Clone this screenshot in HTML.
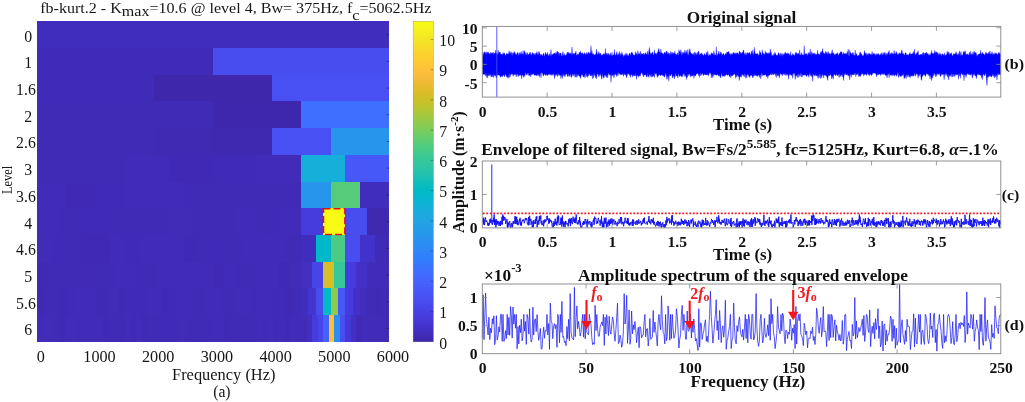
<!DOCTYPE html>
<html><head><meta charset="utf-8"><title>Fast kurtogram</title>
<style>
html,body{margin:0;padding:0;background:#fff;}
svg{display:block;}
text{font-family:"Liberation Serif","DejaVu Serif",serif;fill:#161616;}
.r{font-size:15.8px;}
.b{font-size:15.6px;font-weight:bold;fill:#101010;}
.t{font-size:17.3px;font-weight:bold;fill:#101010;}
.red{fill:#ee1c23;font-weight:bold;}
</style></head>
<body>
<svg width="1025" height="402" viewBox="0 0 1025 402">
<rect x="0" y="0" width="1025" height="402" fill="#ffffff"/>
<defs><linearGradient id="cb" x1="0" y1="1" x2="0" y2="0">
<stop offset="0.0000" stop-color="#3e26a8"/><stop offset="0.0159" stop-color="#402ab4"/><stop offset="0.0317" stop-color="#422ec0"/><stop offset="0.0476" stop-color="#4332cb"/><stop offset="0.0635" stop-color="#4537d5"/><stop offset="0.0794" stop-color="#463cde"/><stop offset="0.0952" stop-color="#4741e5"/><stop offset="0.1111" stop-color="#4747eb"/><stop offset="0.1270" stop-color="#484df0"/><stop offset="0.1429" stop-color="#4852f4"/><stop offset="0.1587" stop-color="#4758f8"/><stop offset="0.1746" stop-color="#465efb"/><stop offset="0.1905" stop-color="#4563fd"/><stop offset="0.2063" stop-color="#4269fe"/><stop offset="0.2222" stop-color="#3e6fff"/><stop offset="0.2381" stop-color="#3875fe"/><stop offset="0.2540" stop-color="#327cfc"/><stop offset="0.2698" stop-color="#2f81fa"/><stop offset="0.2857" stop-color="#2e87f7"/><stop offset="0.3016" stop-color="#2d8cf3"/><stop offset="0.3175" stop-color="#2b91ef"/><stop offset="0.3333" stop-color="#2797eb"/><stop offset="0.3492" stop-color="#259be8"/><stop offset="0.3651" stop-color="#23a0e5"/><stop offset="0.3810" stop-color="#20a5e3"/><stop offset="0.3968" stop-color="#1ca9df"/><stop offset="0.4127" stop-color="#18addb"/><stop offset="0.4286" stop-color="#12b1d6"/><stop offset="0.4444" stop-color="#08b5d0"/><stop offset="0.4603" stop-color="#01b8ca"/><stop offset="0.4762" stop-color="#02bac3"/><stop offset="0.4921" stop-color="#0bbdbd"/><stop offset="0.5079" stop-color="#19bfb6"/><stop offset="0.5238" stop-color="#24c1ae"/><stop offset="0.5397" stop-color="#2cc4a7"/><stop offset="0.5556" stop-color="#31c69f"/><stop offset="0.5714" stop-color="#37c897"/><stop offset="0.5873" stop-color="#3fca8e"/><stop offset="0.6032" stop-color="#4acb84"/><stop offset="0.6190" stop-color="#57cc7a"/><stop offset="0.6349" stop-color="#64cd6f"/><stop offset="0.6508" stop-color="#72cd64"/><stop offset="0.6667" stop-color="#81cc59"/><stop offset="0.6825" stop-color="#8fcb4e"/><stop offset="0.6984" stop-color="#9dc943"/><stop offset="0.7143" stop-color="#abc739"/><stop offset="0.7302" stop-color="#b9c431"/><stop offset="0.7460" stop-color="#c5c22a"/><stop offset="0.7619" stop-color="#d1bf27"/><stop offset="0.7778" stop-color="#dcbd29"/><stop offset="0.7937" stop-color="#e6bb2d"/><stop offset="0.8095" stop-color="#f0ba36"/><stop offset="0.8254" stop-color="#f8ba3d"/><stop offset="0.8413" stop-color="#febe3c"/><stop offset="0.8571" stop-color="#fec338"/><stop offset="0.8730" stop-color="#fec934"/><stop offset="0.8889" stop-color="#fccf30"/><stop offset="0.9048" stop-color="#fad62d"/><stop offset="0.9206" stop-color="#f7dc2a"/><stop offset="0.9365" stop-color="#f5e327"/><stop offset="0.9524" stop-color="#f5e924"/><stop offset="0.9683" stop-color="#f6ef20"/><stop offset="0.9841" stop-color="#f7f51b"/><stop offset="1.0000" stop-color="#f9fb15"/>
</linearGradient></defs>
<g shape-rendering="crispEdges">
<rect x="37.00" y="21.30" width="352.20" height="320.50" fill="#402bb7"/>
<rect x="37.00" y="21.30" width="352.20" height="27.01" fill="#412dbd"/>
<rect x="37.00" y="48.01" width="176.40" height="27.01" fill="#402bb8"/><rect x="213.10" y="48.01" width="176.10" height="27.01" fill="#484df0"/>
<rect x="37.00" y="74.72" width="117.70" height="27.01" fill="#402bb8"/><rect x="154.40" y="74.72" width="117.70" height="27.01" fill="#3e27aa"/><rect x="271.80" y="74.72" width="117.40" height="27.01" fill="#4850f3"/>
<rect x="37.00" y="101.42" width="88.35" height="27.01" fill="#402bb7"/><rect x="125.05" y="101.42" width="88.35" height="27.01" fill="#402bb7"/><rect x="213.10" y="101.42" width="88.35" height="27.01" fill="#3e27ac"/><rect x="301.15" y="101.42" width="88.05" height="27.01" fill="#3e6fff"/>
<rect x="37.00" y="128.13" width="59.00" height="27.01" fill="#402bb7"/><rect x="95.70" y="128.13" width="59.00" height="27.01" fill="#402bb7"/><rect x="154.40" y="128.13" width="59.00" height="27.01" fill="#402ab3"/><rect x="213.10" y="128.13" width="59.00" height="27.01" fill="#3f29b0"/><rect x="271.80" y="128.13" width="59.00" height="27.01" fill="#4850f3"/><rect x="330.50" y="128.13" width="58.70" height="27.01" fill="#2895ec"/>
<rect x="37.00" y="154.84" width="44.33" height="27.01" fill="#402bb6"/><rect x="81.03" y="154.84" width="44.32" height="27.01" fill="#402bb7"/><rect x="125.05" y="154.84" width="44.32" height="27.01" fill="#412cba"/><rect x="169.07" y="154.84" width="44.33" height="27.01" fill="#402ab5"/><rect x="213.10" y="154.84" width="44.33" height="27.01" fill="#402bb8"/><rect x="257.12" y="154.84" width="44.32" height="27.01" fill="#412cba"/><rect x="301.15" y="154.84" width="44.33" height="27.01" fill="#15afd9"/><rect x="345.18" y="154.84" width="44.02" height="27.01" fill="#4758f8"/>
<rect x="37.00" y="181.55" width="29.65" height="27.01" fill="#412cba"/><rect x="66.35" y="181.55" width="29.65" height="27.01" fill="#402ab5"/><rect x="95.70" y="181.55" width="29.65" height="27.01" fill="#402bb8"/><rect x="125.05" y="181.55" width="29.65" height="27.01" fill="#412cb9"/><rect x="154.40" y="181.55" width="29.65" height="27.01" fill="#412cb9"/><rect x="183.75" y="181.55" width="29.65" height="27.01" fill="#402bb7"/><rect x="213.10" y="181.55" width="29.65" height="27.01" fill="#402bb6"/><rect x="242.45" y="181.55" width="29.65" height="27.01" fill="#402bb7"/><rect x="271.80" y="181.55" width="29.65" height="27.01" fill="#402bb7"/><rect x="301.15" y="181.55" width="29.65" height="27.01" fill="#2895ec"/><rect x="330.50" y="181.55" width="29.65" height="27.01" fill="#56cc7b"/><rect x="359.85" y="181.55" width="29.35" height="27.01" fill="#412dbd"/>
<rect x="37.00" y="208.26" width="22.31" height="27.01" fill="#412cb9"/><rect x="59.01" y="208.26" width="22.31" height="27.01" fill="#402bb6"/><rect x="81.03" y="208.26" width="22.31" height="27.01" fill="#402bb8"/><rect x="103.04" y="208.26" width="22.31" height="27.01" fill="#402bb6"/><rect x="125.05" y="208.26" width="22.31" height="27.01" fill="#402bb7"/><rect x="147.06" y="208.26" width="22.31" height="27.01" fill="#402bb7"/><rect x="169.07" y="208.26" width="22.31" height="27.01" fill="#412cb8"/><rect x="191.09" y="208.26" width="22.31" height="27.01" fill="#402bb7"/><rect x="213.10" y="208.26" width="22.31" height="27.01" fill="#402bb7"/><rect x="235.11" y="208.26" width="22.31" height="27.01" fill="#412cb9"/><rect x="257.12" y="208.26" width="22.31" height="27.01" fill="#402bb7"/><rect x="279.14" y="208.26" width="22.31" height="27.01" fill="#412cba"/><rect x="301.15" y="208.26" width="22.31" height="27.01" fill="#463bdc"/><rect x="323.16" y="208.26" width="22.31" height="27.01" fill="#f9fb15"/><rect x="345.18" y="208.26" width="22.31" height="27.01" fill="#484df0"/><rect x="367.19" y="208.26" width="22.01" height="27.01" fill="#3f29b1"/>
<rect x="37.00" y="234.97" width="14.97" height="27.01" fill="#412cb8"/><rect x="51.67" y="234.97" width="14.97" height="27.01" fill="#402bb8"/><rect x="66.35" y="234.97" width="14.98" height="27.01" fill="#402bb7"/><rect x="81.03" y="234.97" width="14.97" height="27.01" fill="#402ab5"/><rect x="95.70" y="234.97" width="14.98" height="27.01" fill="#402ab5"/><rect x="110.38" y="234.97" width="14.97" height="27.01" fill="#412cb9"/><rect x="125.05" y="234.97" width="14.98" height="27.01" fill="#402bb8"/><rect x="139.73" y="234.97" width="14.97" height="27.01" fill="#412cb9"/><rect x="154.40" y="234.97" width="14.98" height="27.01" fill="#412cba"/><rect x="169.07" y="234.97" width="14.98" height="27.01" fill="#412cb9"/><rect x="183.75" y="234.97" width="14.97" height="27.01" fill="#402ab5"/><rect x="198.42" y="234.97" width="14.98" height="27.01" fill="#402bb6"/><rect x="213.10" y="234.97" width="14.97" height="27.01" fill="#402bb8"/><rect x="227.77" y="234.97" width="14.98" height="27.01" fill="#402bb6"/><rect x="242.45" y="234.97" width="14.97" height="27.01" fill="#412cba"/><rect x="257.12" y="234.97" width="14.97" height="27.01" fill="#412cba"/><rect x="271.80" y="234.97" width="14.98" height="27.01" fill="#412cba"/><rect x="286.48" y="234.97" width="14.97" height="27.01" fill="#402bb7"/><rect x="301.15" y="234.97" width="14.98" height="27.01" fill="#412dbd"/><rect x="315.82" y="234.97" width="14.98" height="27.01" fill="#01b8c9"/><rect x="330.50" y="234.97" width="14.98" height="27.01" fill="#4bcb84"/><rect x="345.18" y="234.97" width="14.97" height="27.01" fill="#484df0"/><rect x="359.85" y="234.97" width="14.98" height="27.01" fill="#4332ca"/><rect x="374.52" y="234.97" width="14.68" height="27.01" fill="#402bb7"/>
<rect x="37.00" y="261.68" width="11.31" height="27.01" fill="#402ab5"/><rect x="48.01" y="261.68" width="11.31" height="27.01" fill="#402bb7"/><rect x="59.01" y="261.68" width="11.31" height="27.01" fill="#402bb6"/><rect x="70.02" y="261.68" width="11.31" height="27.01" fill="#402bb6"/><rect x="81.03" y="261.68" width="11.31" height="27.01" fill="#402ab6"/><rect x="92.03" y="261.68" width="11.31" height="27.01" fill="#402bb7"/><rect x="103.04" y="261.68" width="11.31" height="27.01" fill="#402bb7"/><rect x="114.04" y="261.68" width="11.31" height="27.01" fill="#412cb9"/><rect x="125.05" y="261.68" width="11.31" height="27.01" fill="#412cb9"/><rect x="136.06" y="261.68" width="11.31" height="27.01" fill="#402bb8"/><rect x="147.06" y="261.68" width="11.31" height="27.01" fill="#402bb7"/><rect x="158.07" y="261.68" width="11.31" height="27.01" fill="#412cb9"/><rect x="169.07" y="261.68" width="11.31" height="27.01" fill="#412cba"/><rect x="180.08" y="261.68" width="11.31" height="27.01" fill="#412cb9"/><rect x="191.09" y="261.68" width="11.31" height="27.01" fill="#412cb9"/><rect x="202.09" y="261.68" width="11.31" height="27.01" fill="#412cba"/><rect x="213.10" y="261.68" width="11.31" height="27.01" fill="#402ab5"/><rect x="224.11" y="261.68" width="11.31" height="27.01" fill="#412cba"/><rect x="235.11" y="261.68" width="11.31" height="27.01" fill="#402bb6"/><rect x="246.12" y="261.68" width="11.31" height="27.01" fill="#402bb7"/><rect x="257.12" y="261.68" width="11.31" height="27.01" fill="#412cb9"/><rect x="268.13" y="261.68" width="11.31" height="27.01" fill="#412cb9"/><rect x="279.14" y="261.68" width="11.31" height="27.01" fill="#402ab5"/><rect x="290.14" y="261.68" width="11.31" height="27.01" fill="#412cb8"/><rect x="301.15" y="261.68" width="11.31" height="27.01" fill="#422fc0"/><rect x="312.16" y="261.68" width="11.31" height="27.01" fill="#4744e8"/><rect x="323.16" y="261.68" width="11.31" height="27.01" fill="#d6be28"/><rect x="334.17" y="261.68" width="11.31" height="27.01" fill="#37c897"/><rect x="345.18" y="261.68" width="11.31" height="27.01" fill="#463cde"/><rect x="356.18" y="261.68" width="11.31" height="27.01" fill="#4331c7"/><rect x="367.19" y="261.68" width="11.31" height="27.01" fill="#412cb9"/><rect x="378.19" y="261.68" width="11.01" height="27.01" fill="#412cb9"/>
<rect x="37.00" y="288.38" width="7.64" height="27.01" fill="#402ab5"/><rect x="44.34" y="288.38" width="7.64" height="27.01" fill="#402bb7"/><rect x="51.67" y="288.38" width="7.64" height="27.01" fill="#402bb7"/><rect x="59.01" y="288.38" width="7.64" height="27.01" fill="#402ab5"/><rect x="66.35" y="288.38" width="7.64" height="27.01" fill="#402bb8"/><rect x="73.69" y="288.38" width="7.64" height="27.01" fill="#402cb8"/><rect x="81.03" y="288.38" width="7.64" height="27.01" fill="#412cb9"/><rect x="88.36" y="288.38" width="7.64" height="27.01" fill="#412cba"/><rect x="95.70" y="288.38" width="7.64" height="27.01" fill="#402ab5"/><rect x="103.04" y="288.38" width="7.64" height="27.01" fill="#402bb6"/><rect x="110.38" y="288.38" width="7.64" height="27.01" fill="#412cb8"/><rect x="117.71" y="288.38" width="7.64" height="27.01" fill="#402ab5"/><rect x="125.05" y="288.38" width="7.64" height="27.01" fill="#402bb6"/><rect x="132.39" y="288.38" width="7.64" height="27.01" fill="#402bb8"/><rect x="139.73" y="288.38" width="7.64" height="27.01" fill="#402bb6"/><rect x="147.06" y="288.38" width="7.64" height="27.01" fill="#412cb9"/><rect x="154.40" y="288.38" width="7.64" height="27.01" fill="#412cba"/><rect x="161.74" y="288.38" width="7.64" height="27.01" fill="#402ab5"/><rect x="169.07" y="288.38" width="7.64" height="27.01" fill="#402bb8"/><rect x="176.41" y="288.38" width="7.64" height="27.01" fill="#412cb9"/><rect x="183.75" y="288.38" width="7.64" height="27.01" fill="#412cba"/><rect x="191.09" y="288.38" width="7.64" height="27.01" fill="#402bb6"/><rect x="198.42" y="288.38" width="7.64" height="27.01" fill="#402bb6"/><rect x="205.76" y="288.38" width="7.64" height="27.01" fill="#412cba"/><rect x="213.10" y="288.38" width="7.64" height="27.01" fill="#412cba"/><rect x="220.44" y="288.38" width="7.64" height="27.01" fill="#402bb6"/><rect x="227.77" y="288.38" width="7.64" height="27.01" fill="#402bb7"/><rect x="235.11" y="288.38" width="7.64" height="27.01" fill="#412cb9"/><rect x="242.45" y="288.38" width="7.64" height="27.01" fill="#412cba"/><rect x="249.79" y="288.38" width="7.64" height="27.01" fill="#402bb6"/><rect x="257.12" y="288.38" width="7.64" height="27.01" fill="#412cb8"/><rect x="264.46" y="288.38" width="7.64" height="27.01" fill="#412cb9"/><rect x="271.80" y="288.38" width="7.64" height="27.01" fill="#402bb8"/><rect x="279.14" y="288.38" width="7.64" height="27.01" fill="#402ab6"/><rect x="286.48" y="288.38" width="7.64" height="27.01" fill="#402ab5"/><rect x="293.81" y="288.38" width="7.64" height="27.01" fill="#402bb6"/><rect x="301.15" y="288.38" width="7.64" height="27.01" fill="#412dbd"/><rect x="308.49" y="288.38" width="7.64" height="27.01" fill="#4435d1"/><rect x="315.82" y="288.38" width="7.64" height="27.01" fill="#484df0"/><rect x="323.16" y="288.38" width="7.64" height="27.01" fill="#01bac5"/><rect x="330.50" y="288.38" width="7.64" height="27.01" fill="#8ccb50"/><rect x="337.84" y="288.38" width="7.64" height="27.01" fill="#4758f8"/><rect x="345.18" y="288.38" width="7.64" height="27.01" fill="#463bdc"/><rect x="352.51" y="288.38" width="7.64" height="27.01" fill="#4331c7"/><rect x="359.85" y="288.38" width="7.64" height="27.01" fill="#412dbd"/><rect x="367.19" y="288.38" width="7.64" height="27.01" fill="#402bb7"/><rect x="374.52" y="288.38" width="7.64" height="27.01" fill="#402ab5"/><rect x="381.86" y="288.38" width="7.34" height="27.01" fill="#402bb7"/>
<rect x="37.00" y="315.09" width="5.80" height="26.71" fill="#402bb8"/><rect x="42.50" y="315.09" width="5.80" height="26.71" fill="#412cba"/><rect x="48.01" y="315.09" width="5.80" height="26.71" fill="#412cba"/><rect x="53.51" y="315.09" width="5.80" height="26.71" fill="#402bb6"/><rect x="59.01" y="315.09" width="5.80" height="26.71" fill="#402ab5"/><rect x="64.52" y="315.09" width="5.80" height="26.71" fill="#412cb9"/><rect x="70.02" y="315.09" width="5.80" height="26.71" fill="#412cba"/><rect x="75.52" y="315.09" width="5.80" height="26.71" fill="#402bb7"/><rect x="81.03" y="315.09" width="5.80" height="26.71" fill="#412cb9"/><rect x="86.53" y="315.09" width="5.80" height="26.71" fill="#412cba"/><rect x="92.03" y="315.09" width="5.80" height="26.71" fill="#402cb8"/><rect x="97.53" y="315.09" width="5.80" height="26.71" fill="#412cba"/><rect x="103.04" y="315.09" width="5.80" height="26.71" fill="#402ab5"/><rect x="108.54" y="315.09" width="5.80" height="26.71" fill="#402bb6"/><rect x="114.04" y="315.09" width="5.80" height="26.71" fill="#402bb6"/><rect x="119.55" y="315.09" width="5.80" height="26.71" fill="#402ab5"/><rect x="125.05" y="315.09" width="5.80" height="26.71" fill="#412cba"/><rect x="130.55" y="315.09" width="5.80" height="26.71" fill="#402ab5"/><rect x="136.06" y="315.09" width="5.80" height="26.71" fill="#412cb9"/><rect x="141.56" y="315.09" width="5.80" height="26.71" fill="#402ab5"/><rect x="147.06" y="315.09" width="5.80" height="26.71" fill="#402bb7"/><rect x="152.57" y="315.09" width="5.80" height="26.71" fill="#402bb7"/><rect x="158.07" y="315.09" width="5.80" height="26.71" fill="#402bb6"/><rect x="163.57" y="315.09" width="5.80" height="26.71" fill="#402bb8"/><rect x="169.07" y="315.09" width="5.80" height="26.71" fill="#402bb8"/><rect x="174.58" y="315.09" width="5.80" height="26.71" fill="#402bb6"/><rect x="180.08" y="315.09" width="5.80" height="26.71" fill="#412cb9"/><rect x="185.58" y="315.09" width="5.80" height="26.71" fill="#402ab6"/><rect x="191.09" y="315.09" width="5.80" height="26.71" fill="#402bb6"/><rect x="196.59" y="315.09" width="5.80" height="26.71" fill="#402bb7"/><rect x="202.09" y="315.09" width="5.80" height="26.71" fill="#402bb7"/><rect x="207.60" y="315.09" width="5.80" height="26.71" fill="#402bb6"/><rect x="213.10" y="315.09" width="5.80" height="26.71" fill="#412cba"/><rect x="218.60" y="315.09" width="5.80" height="26.71" fill="#412cb9"/><rect x="224.11" y="315.09" width="5.80" height="26.71" fill="#402ab5"/><rect x="229.61" y="315.09" width="5.80" height="26.71" fill="#402bb7"/><rect x="235.11" y="315.09" width="5.80" height="26.71" fill="#402bb6"/><rect x="240.62" y="315.09" width="5.80" height="26.71" fill="#402bb7"/><rect x="246.12" y="315.09" width="5.80" height="26.71" fill="#402bb6"/><rect x="251.62" y="315.09" width="5.80" height="26.71" fill="#402bb8"/><rect x="257.12" y="315.09" width="5.80" height="26.71" fill="#412cba"/><rect x="262.63" y="315.09" width="5.80" height="26.71" fill="#402bb7"/><rect x="268.13" y="315.09" width="5.80" height="26.71" fill="#412cb8"/><rect x="273.63" y="315.09" width="5.80" height="26.71" fill="#402bb8"/><rect x="279.14" y="315.09" width="5.80" height="26.71" fill="#412cb9"/><rect x="284.64" y="315.09" width="5.80" height="26.71" fill="#402ab5"/><rect x="290.14" y="315.09" width="5.80" height="26.71" fill="#412cb9"/><rect x="295.65" y="315.09" width="5.80" height="26.71" fill="#412cba"/><rect x="301.15" y="315.09" width="5.80" height="26.71" fill="#402cb8"/><rect x="306.65" y="315.09" width="5.80" height="26.71" fill="#422fc0"/><rect x="312.16" y="315.09" width="5.80" height="26.71" fill="#463bdc"/><rect x="317.66" y="315.09" width="5.80" height="26.71" fill="#4746ea"/><rect x="323.16" y="315.09" width="5.80" height="26.71" fill="#4563fc"/><rect x="328.67" y="315.09" width="5.80" height="26.71" fill="#fec03a"/><rect x="334.17" y="315.09" width="5.80" height="26.71" fill="#2c8ff0"/><rect x="339.67" y="315.09" width="5.80" height="26.71" fill="#484ef1"/><rect x="345.18" y="315.09" width="5.80" height="26.71" fill="#4538d7"/><rect x="350.68" y="315.09" width="5.80" height="26.71" fill="#4230c4"/><rect x="356.18" y="315.09" width="5.80" height="26.71" fill="#402ab5"/><rect x="361.68" y="315.09" width="5.80" height="26.71" fill="#412cba"/><rect x="367.19" y="315.09" width="5.80" height="26.71" fill="#412cb9"/><rect x="372.69" y="315.09" width="5.80" height="26.71" fill="#412cb8"/><rect x="378.19" y="315.09" width="5.80" height="26.71" fill="#412cb9"/><rect x="383.70" y="315.09" width="5.50" height="26.71" fill="#402bb6"/>
</g>
<rect x="323.46" y="208.76" width="21.41" height="25.71" fill="none" stroke="#e01010" stroke-width="1.6" stroke-dasharray="7 3"/>
<line x1="386.80" y1="34.65" x2="389.20" y2="34.65" stroke="#222" stroke-width="0.6"/><line x1="386.80" y1="61.36" x2="389.20" y2="61.36" stroke="#222" stroke-width="0.6"/><line x1="386.80" y1="88.07" x2="389.20" y2="88.07" stroke="#222" stroke-width="0.6"/><line x1="386.80" y1="114.78" x2="389.20" y2="114.78" stroke="#222" stroke-width="0.6"/><line x1="386.80" y1="141.49" x2="389.20" y2="141.49" stroke="#222" stroke-width="0.6"/><line x1="386.80" y1="168.20" x2="389.20" y2="168.20" stroke="#222" stroke-width="0.6"/><line x1="386.80" y1="194.90" x2="389.20" y2="194.90" stroke="#222" stroke-width="0.6"/><line x1="386.80" y1="221.61" x2="389.20" y2="221.61" stroke="#222" stroke-width="0.6"/><line x1="386.80" y1="248.32" x2="389.20" y2="248.32" stroke="#222" stroke-width="0.6"/><line x1="386.80" y1="275.03" x2="389.20" y2="275.03" stroke="#222" stroke-width="0.6"/><line x1="386.80" y1="301.74" x2="389.20" y2="301.74" stroke="#222" stroke-width="0.6"/><line x1="386.80" y1="328.45" x2="389.20" y2="328.45" stroke="#222" stroke-width="0.6"/>
<rect x="413.20" y="21.30" width="20.20" height="320.50" fill="url(#cb)" stroke="#333" stroke-opacity="0.35" stroke-width="0.6"/>
<text class="r" x="439.30" y="348.60">0</text><line x1="430.60" y1="311.56" x2="433.40" y2="311.56" stroke="#222" stroke-opacity="0.6" stroke-width="0.6"/><text class="r" x="439.30" y="318.36">1</text><line x1="430.60" y1="281.33" x2="433.40" y2="281.33" stroke="#222" stroke-opacity="0.6" stroke-width="0.6"/><text class="r" x="439.30" y="288.13">2</text><line x1="430.60" y1="251.09" x2="433.40" y2="251.09" stroke="#222" stroke-opacity="0.6" stroke-width="0.6"/><text class="r" x="439.30" y="257.89">3</text><line x1="430.60" y1="220.86" x2="433.40" y2="220.86" stroke="#222" stroke-opacity="0.6" stroke-width="0.6"/><text class="r" x="439.30" y="227.66">4</text><line x1="430.60" y1="190.62" x2="433.40" y2="190.62" stroke="#222" stroke-opacity="0.6" stroke-width="0.6"/><text class="r" x="439.30" y="197.42">5</text><line x1="430.60" y1="160.38" x2="433.40" y2="160.38" stroke="#222" stroke-opacity="0.6" stroke-width="0.6"/><text class="r" x="439.30" y="167.18">6</text><line x1="430.60" y1="130.15" x2="433.40" y2="130.15" stroke="#222" stroke-opacity="0.6" stroke-width="0.6"/><text class="r" x="439.30" y="136.95">7</text><line x1="430.60" y1="99.91" x2="433.40" y2="99.91" stroke="#222" stroke-opacity="0.6" stroke-width="0.6"/><text class="r" x="439.30" y="106.71">8</text><line x1="430.60" y1="69.68" x2="433.40" y2="69.68" stroke="#222" stroke-opacity="0.6" stroke-width="0.6"/><text class="r" x="439.30" y="76.48">9</text><line x1="430.60" y1="39.44" x2="433.40" y2="39.44" stroke="#222" stroke-opacity="0.6" stroke-width="0.6"/><text class="r" x="439.30" y="46.24">10</text>
<text class="r" x="28.30" y="41.65" text-anchor="middle">0</text><text class="r" x="28.30" y="68.36" text-anchor="middle">1</text><text class="r" x="35.80" y="95.07" text-anchor="end">1.6</text><text class="r" x="28.30" y="121.78" text-anchor="middle">2</text><text class="r" x="35.80" y="148.49" text-anchor="end">2.6</text><text class="r" x="28.30" y="175.20" text-anchor="middle">3</text><text class="r" x="35.80" y="201.90" text-anchor="end">3.6</text><text class="r" x="28.30" y="228.61" text-anchor="middle">4</text><text class="r" x="35.80" y="255.32" text-anchor="end">4.6</text><text class="r" x="28.30" y="282.03" text-anchor="middle">5</text><text class="r" x="35.80" y="308.74" text-anchor="end">5.6</text><text class="r" x="28.30" y="335.45" text-anchor="middle">6</text>
<text class="r" x="40.80" y="361.80" text-anchor="middle" style="font-size:16.2px">0</text><text class="r" x="99.50" y="361.80" text-anchor="middle" style="font-size:16.2px">1000</text><text class="r" x="158.20" y="361.80" text-anchor="middle" style="font-size:16.2px">2000</text><text class="r" x="216.90" y="361.80" text-anchor="middle" style="font-size:16.2px">3000</text><text class="r" x="275.60" y="361.80" text-anchor="middle" style="font-size:16.2px">4000</text><text class="r" x="334.30" y="361.80" text-anchor="middle" style="font-size:16.2px">5000</text><text class="r" x="393.00" y="361.80" text-anchor="middle" style="font-size:16.2px">6000</text>
<text class="r" x="172.00" y="379.90" textLength="103.5" lengthAdjust="spacingAndGlyphs">Frequency (Hz)</text>
<text class="r" x="213.20" y="396.80" textLength="17.4" lengthAdjust="spacingAndGlyphs">(a)</text>
<text class="r" text-anchor="middle" transform="translate(12.2,179.9) rotate(-90)" textLength="28.4" lengthAdjust="spacingAndGlyphs" style="font-size:15.5px">Level</text>
<text class="r" x="40.2" y="12.6" textLength="391.2" lengthAdjust="spacingAndGlyphs" style="font-size:15.4px">fb-kurt.2 - K<tspan dy="3.6">max</tspan><tspan dy="-3.6">=10.6 @ level 4, Bw= 375Hz, f</tspan><tspan dy="7.5">c</tspan><tspan dy="-7.5">=5062.5Hz</tspan></text>
<polygon points="482.6,53.4 483.1,52.0 483.6,55.6 484.1,52.8 484.6,51.6 485.1,53.0 485.6,52.4 486.1,54.9 486.6,51.7 487.1,53.7 487.6,51.9 488.1,52.7 488.6,51.9 489.1,54.7 489.6,53.4 490.1,54.4 490.6,52.3 491.1,53.4 491.6,52.8 492.1,53.1 492.6,52.6 493.1,55.1 493.6,52.2 494.1,53.3 494.6,53.6 495.1,53.6 495.6,50.1 496.1,53.9 496.6,52.8 497.1,53.7 497.6,55.3 498.1,50.0 498.6,54.3 499.1,51.5 499.6,53.1 500.1,52.0 500.6,54.3 501.1,53.9 501.6,54.0 502.1,55.3 502.6,53.9 503.1,52.6 503.6,54.6 504.1,52.7 504.6,53.3 505.1,55.2 505.6,55.5 506.1,54.3 506.6,53.4 507.1,54.1 507.6,53.6 508.1,54.8 508.6,53.4 509.1,50.7 509.6,53.6 510.1,52.3 510.6,54.2 511.1,51.6 511.6,53.5 512.1,55.7 512.6,52.7 513.1,53.6 513.6,53.3 514.1,51.2 514.6,53.1 515.1,52.5 515.6,54.7 516.1,53.9 516.6,55.0 517.1,52.9 517.6,52.7 518.1,52.5 518.6,55.4 519.1,54.7 519.6,52.8 520.1,52.6 520.6,54.9 521.1,51.3 521.6,54.4 522.1,53.5 522.6,54.4 523.1,50.4 523.6,55.7 524.1,51.8 524.6,50.5 525.1,54.5 525.6,54.0 526.0,52.1 526.5,55.1 527.0,54.5 527.5,52.6 528.0,55.2 528.5,54.2 529.0,54.5 529.5,53.4 530.0,51.9 530.5,52.9 531.0,54.7 531.5,55.4 532.0,53.3 532.5,52.3 533.0,54.4 533.5,53.2 534.0,54.5 534.5,54.9 535.0,52.8 535.5,55.4 536.0,53.1 536.5,53.4 537.0,51.4 537.5,54.1 538.0,55.6 538.5,52.9 539.0,51.3 539.5,53.1 540.0,53.5 540.5,55.7 541.0,54.0 541.5,54.5 542.0,56.0 542.5,55.7 543.0,54.1 543.5,53.1 544.0,54.7 544.5,56.8 545.0,54.1 545.5,52.1 546.0,53.8 546.5,54.9 547.0,54.0 547.5,52.3 548.0,55.2 548.5,56.3 549.0,54.1 549.5,53.7 550.0,56.3 550.5,54.6 551.0,49.5 551.5,56.4 552.0,53.9 552.5,55.2 553.0,54.0 553.5,53.9 554.0,52.9 554.5,53.2 555.0,53.3 555.5,54.6 556.0,52.1 556.5,54.5 557.0,51.6 557.5,51.0 558.0,53.0 558.5,52.1 559.0,55.9 559.5,53.6 560.0,52.8 560.5,53.3 561.0,53.0 561.5,56.3 562.0,55.9 562.5,53.5 563.0,51.4 563.5,55.3 564.0,55.8 564.5,53.5 565.0,55.7 565.5,55.0 566.0,55.4 566.5,54.5 567.0,52.7 567.5,52.0 568.0,53.9 568.5,51.9 569.0,54.4 569.5,52.8 570.0,53.7 570.5,52.7 571.0,54.1 571.5,55.0 572.0,46.9 572.5,54.9 573.0,53.0 573.5,53.7 574.0,54.6 574.5,53.6 575.0,53.0 575.5,52.7 576.0,51.1 576.5,55.6 577.0,55.0 577.5,54.5 578.0,53.6 578.5,55.1 579.0,53.8 579.5,52.0 580.0,53.0 580.5,50.8 581.0,53.7 581.5,53.1 582.0,53.6 582.5,52.6 583.0,54.1 583.5,54.2 584.0,54.2 584.5,52.6 585.0,53.0 585.5,54.3 586.0,54.9 586.5,53.3 587.0,52.3 587.5,54.7 588.0,53.3 588.5,51.8 589.0,53.8 589.5,53.8 590.0,52.5 590.5,53.1 591.0,45.8 591.5,54.2 592.0,50.7 592.5,54.9 593.0,53.4 593.5,54.2 594.0,54.6 594.5,55.0 595.0,54.4 595.5,54.6 596.0,53.6 596.5,49.0 597.0,52.2 597.5,54.4 598.0,54.2 598.5,53.0 599.0,51.6 599.5,54.6 600.0,53.5 600.5,53.0 601.0,54.4 601.5,55.6 602.0,55.2 602.5,54.9 603.0,54.0 603.5,53.4 604.0,54.7 604.5,53.7 605.0,54.4 605.5,48.6 606.0,55.4 606.5,53.4 607.0,52.9 607.5,54.0 608.0,55.6 608.5,53.4 609.0,53.5 609.5,54.9 610.0,55.8 610.5,52.7 611.0,55.2 611.5,55.7 612.0,52.2 612.4,55.0 612.9,55.7 613.4,54.8 613.9,54.8 614.4,49.4 614.9,54.8 615.4,54.7 615.9,55.4 616.4,53.2 616.9,51.5 617.4,54.9 617.9,55.7 618.4,53.4 618.9,55.2 619.4,51.2 619.9,55.3 620.4,55.5 620.9,53.1 621.4,55.6 621.9,51.9 622.4,54.6 622.9,54.4 623.4,55.9 623.9,56.8 624.4,55.6 624.9,54.2 625.4,55.9 625.9,52.9 626.4,55.6 626.9,53.4 627.4,55.0 627.9,56.4 628.4,55.5 628.9,54.4 629.4,52.9 629.9,53.9 630.4,55.9 630.9,53.2 631.4,52.1 631.9,52.7 632.4,52.5 632.9,54.2 633.4,54.9 633.9,54.9 634.4,54.9 634.9,55.6 635.4,51.6 635.9,54.2 636.4,52.9 636.9,55.0 637.4,54.5 637.9,50.6 638.4,53.4 638.9,54.5 639.4,53.3 639.9,54.2 640.4,51.1 640.9,55.7 641.4,53.5 641.9,54.0 642.4,53.8 642.9,54.3 643.4,53.0 643.9,54.9 644.4,54.5 644.9,53.6 645.4,52.6 645.9,54.1 646.4,54.5 646.9,53.6 647.4,51.2 647.9,54.7 648.4,54.4 648.9,50.2 649.4,47.4 649.9,51.4 650.4,53.3 650.9,54.4 651.4,53.7 651.9,52.8 652.4,51.9 652.9,52.8 653.4,54.9 653.9,55.0 654.4,49.7 654.9,53.8 655.4,53.3 655.9,53.7 656.4,53.3 656.9,55.0 657.4,51.7 657.9,53.2 658.4,49.6 658.9,48.4 659.4,51.8 659.9,52.2 660.4,53.7 660.9,49.0 661.4,52.6 661.9,52.9 662.4,53.0 662.9,53.8 663.4,54.8 663.9,53.6 664.4,52.3 664.9,52.2 665.4,52.4 665.9,54.1 666.4,51.0 666.9,51.1 667.4,52.8 667.9,54.6 668.4,52.4 668.9,54.1 669.4,53.2 669.9,55.2 670.4,53.1 670.9,51.3 671.4,52.8 671.9,54.7 672.4,52.1 672.9,54.5 673.4,53.0 673.9,52.7 674.4,54.2 674.9,51.0 675.4,54.2 675.9,54.6 676.4,54.7 676.9,54.1 677.4,52.7 677.9,54.7 678.4,55.1 678.9,49.6 679.4,52.5 679.9,50.9 680.4,53.3 680.9,49.5 681.4,53.6 681.9,55.5 682.4,52.1 682.9,54.6 683.4,51.9 683.9,54.0 684.4,52.9 684.9,49.9 685.4,52.4 685.9,53.5 686.4,50.5 686.9,53.3 687.4,54.9 687.9,49.3 688.4,55.4 688.9,53.9 689.4,50.4 689.9,48.6 690.4,52.2 690.9,52.8 691.4,53.8 691.9,53.6 692.4,54.7 692.9,53.5 693.4,53.2 693.9,55.2 694.4,51.8 694.9,56.0 695.4,53.3 695.9,52.3 696.4,54.4 696.9,54.8 697.4,52.3 697.9,54.8 698.4,51.0 698.8,50.9 699.3,54.2 699.8,54.9 700.3,54.1 700.8,53.4 701.3,54.2 701.8,52.7 702.3,54.4 702.8,54.5 703.3,55.3 703.8,55.8 704.3,53.4 704.8,53.9 705.3,55.1 705.8,55.6 706.3,52.0 706.8,54.6 707.3,54.6 707.8,51.1 708.3,54.7 708.8,56.4 709.3,54.3 709.8,55.5 710.3,55.4 710.8,54.1 711.3,52.6 711.8,54.4 712.3,53.2 712.8,53.7 713.3,55.6 713.8,50.7 714.3,53.1 714.8,55.2 715.3,55.0 715.8,55.0 716.3,46.7 716.8,55.6 717.3,54.3 717.8,55.4 718.3,53.0 718.8,51.0 719.3,55.0 719.8,53.8 720.3,51.8 720.8,53.7 721.3,52.4 721.8,55.3 722.3,54.6 722.8,54.0 723.3,53.7 723.8,53.4 724.3,56.0 724.8,54.7 725.3,54.3 725.8,53.2 726.3,54.7 726.8,51.9 727.3,52.1 727.8,52.4 728.3,52.1 728.8,51.3 729.3,54.1 729.8,53.7 730.3,55.6 730.8,53.5 731.3,54.7 731.8,53.6 732.3,53.3 732.8,55.1 733.3,52.7 733.8,52.3 734.3,53.9 734.8,52.8 735.3,53.1 735.8,54.4 736.3,52.7 736.8,53.9 737.3,52.5 737.8,53.4 738.3,53.4 738.8,55.0 739.3,51.3 739.8,51.1 740.3,54.3 740.8,52.1 741.3,53.3 741.8,53.4 742.3,52.6 742.8,52.2 743.3,49.9 743.8,50.2 744.3,55.5 744.8,53.3 745.3,55.4 745.8,52.3 746.3,55.7 746.8,53.5 747.3,52.7 747.8,52.5 748.3,53.9 748.8,53.2 749.3,52.2 749.8,53.1 750.3,53.9 750.8,55.5 751.3,50.9 751.8,52.4 752.3,54.4 752.8,49.8 753.3,54.5 753.8,54.6 754.3,47.2 754.8,51.7 755.3,54.3 755.8,53.5 756.3,53.9 756.8,54.2 757.3,53.2 757.8,54.0 758.3,54.5 758.8,56.1 759.3,53.9 759.8,50.5 760.3,52.8 760.8,52.4 761.3,55.0 761.8,55.0 762.3,49.8 762.8,52.7 763.3,54.3 763.8,53.3 764.3,54.7 764.8,53.9 765.3,50.9 765.8,53.6 766.3,53.3 766.8,52.4 767.3,53.8 767.8,53.2 768.3,54.3 768.8,52.5 769.3,53.9 769.8,53.1 770.3,48.7 770.8,53.2 771.3,52.1 771.8,55.5 772.3,55.5 772.8,55.3 773.3,55.9 773.8,53.6 774.3,54.9 774.8,52.3 775.3,53.0 775.8,54.2 776.3,55.1 776.8,55.8 777.3,54.9 777.8,55.5 778.3,52.6 778.8,52.9 779.3,55.9 779.8,53.7 780.3,55.9 780.8,52.9 781.3,53.8 781.8,55.7 782.3,53.3 782.8,57.0 783.3,53.8 783.8,55.5 784.3,53.7 784.7,53.6 785.2,51.9 785.7,53.6 786.2,53.9 786.7,53.0 787.2,54.5 787.7,52.7 788.2,54.0 788.7,53.3 789.2,53.8 789.7,55.6 790.2,55.2 790.7,51.4 791.2,56.4 791.7,55.1 792.2,54.9 792.7,53.4 793.2,54.7 793.7,54.5 794.2,55.5 794.7,55.5 795.2,52.4 795.7,54.6 796.2,52.1 796.7,54.3 797.2,53.2 797.7,54.2 798.2,54.3 798.7,53.0 799.2,55.5 799.7,49.8 800.2,54.0 800.7,55.2 801.2,54.9 801.7,52.5 802.2,54.6 802.7,55.1 803.2,55.3 803.7,54.9 804.2,45.5 804.7,54.9 805.2,53.7 805.7,54.3 806.2,53.2 806.7,54.5 807.2,53.9 807.7,56.6 808.2,52.3 808.7,54.8 809.2,52.5 809.7,54.2 810.2,48.9 810.7,55.2 811.2,54.4 811.7,51.4 812.2,54.1 812.7,53.6 813.2,52.7 813.7,53.9 814.2,54.7 814.7,52.8 815.2,54.1 815.7,54.3 816.2,55.2 816.7,54.0 817.2,53.8 817.7,50.3 818.2,53.9 818.7,54.3 819.2,54.7 819.7,54.2 820.2,53.5 820.7,51.8 821.2,53.1 821.7,51.3 822.2,50.9 822.7,48.5 823.2,53.5 823.7,52.5 824.2,54.1 824.7,53.4 825.2,53.8 825.7,50.9 826.2,53.1 826.7,52.5 827.2,52.4 827.7,54.8 828.2,51.2 828.7,54.3 829.2,53.4 829.7,53.8 830.2,53.3 830.7,54.7 831.2,53.9 831.7,52.0 832.2,49.5 832.7,53.3 833.2,53.3 833.7,52.8 834.2,54.7 834.7,54.5 835.2,54.7 835.7,54.0 836.2,53.3 836.7,54.2 837.2,53.6 837.7,52.5 838.2,55.5 838.7,54.8 839.2,53.7 839.7,53.2 840.2,52.3 840.7,51.6 841.2,52.7 841.7,51.6 842.2,54.6 842.7,54.2 843.2,52.0 843.7,54.2 844.2,53.6 844.7,54.0 845.2,53.1 845.7,53.9 846.2,54.6 846.7,53.4 847.2,51.4 847.7,54.0 848.2,49.1 848.7,55.3 849.2,56.3 849.7,49.8 850.2,52.7 850.7,52.6 851.2,53.3 851.7,54.2 852.2,54.6 852.7,52.6 853.2,52.6 853.7,54.8 854.2,55.7 854.7,55.0 855.2,50.0 855.7,55.8 856.2,53.7 856.7,53.7 857.2,55.9 857.7,55.8 858.2,55.6 858.7,55.3 859.2,55.6 859.7,52.8 860.2,51.8 860.7,53.0 861.2,54.6 861.7,53.8 862.2,55.3 862.7,56.1 863.2,55.8 863.7,55.0 864.2,52.8 864.7,50.5 865.2,54.4 865.7,52.7 866.2,55.7 866.7,53.3 867.2,54.3 867.7,54.7 868.2,52.9 868.7,55.6 869.2,53.8 869.7,53.4 870.2,54.1 870.7,54.9 871.1,53.7 871.6,55.4 872.1,51.5 872.6,54.9 873.1,53.9 873.6,53.0 874.1,55.3 874.6,53.5 875.1,53.7 875.6,55.2 876.1,55.4 876.6,53.6 877.1,54.0 877.6,54.8 878.1,53.2 878.6,54.5 879.1,54.3 879.6,55.7 880.1,54.7 880.6,53.6 881.1,55.4 881.6,52.8 882.1,54.9 882.6,54.5 883.1,52.2 883.6,54.5 884.1,54.2 884.6,52.4 885.1,52.6 885.6,54.8 886.1,55.8 886.6,53.1 887.1,54.4 887.6,54.0 888.1,52.2 888.6,52.6 889.1,50.4 889.6,55.5 890.1,52.8 890.6,54.6 891.1,54.5 891.6,52.5 892.1,53.9 892.6,53.2 893.1,53.6 893.6,54.8 894.1,50.3 894.6,54.1 895.1,53.8 895.6,53.8 896.1,51.3 896.6,52.8 897.1,53.3 897.6,55.2 898.1,54.6 898.6,53.9 899.1,52.6 899.6,53.8 900.1,53.8 900.6,53.4 901.1,53.0 901.6,50.0 902.1,50.6 902.6,53.8 903.1,54.3 903.6,53.3 904.1,54.9 904.6,55.3 905.1,52.8 905.6,52.7 906.1,53.3 906.6,55.1 907.1,55.0 907.6,54.5 908.1,55.3 908.6,55.0 909.1,53.9 909.6,53.2 910.1,52.4 910.6,54.7 911.1,54.0 911.6,54.1 912.1,54.2 912.6,53.2 913.1,52.9 913.6,51.4 914.1,54.4 914.6,49.1 915.1,54.7 915.6,55.1 916.1,53.4 916.6,53.7 917.1,52.3 917.6,53.1 918.1,50.4 918.6,54.7 919.1,54.9 919.6,55.0 920.1,54.4 920.6,54.5 921.1,54.3 921.6,54.3 922.1,55.5 922.6,52.9 923.1,52.8 923.6,52.3 924.1,55.6 924.6,53.5 925.1,52.9 925.6,52.9 926.1,53.4 926.6,52.0 927.1,53.8 927.6,53.7 928.1,53.5 928.6,54.9 929.1,55.5 929.6,54.8 930.1,53.4 930.6,55.4 931.1,53.3 931.6,50.3 932.1,54.4 932.6,53.1 933.1,53.0 933.6,54.2 934.1,53.4 934.6,50.2 935.1,54.0 935.6,51.7 936.1,52.3 936.6,51.7 937.1,53.7 937.6,52.5 938.1,54.5 938.6,54.9 939.1,52.5 939.6,54.8 940.1,54.4 940.6,53.4 941.1,56.5 941.6,54.5 942.1,53.8 942.6,53.8 943.1,54.5 943.6,54.7 944.1,56.1 944.6,52.7 945.1,54.4 945.6,55.4 946.1,54.9 946.6,55.1 947.1,51.2 947.6,52.5 948.1,54.3 948.6,52.0 949.1,52.2 949.6,55.2 950.1,53.5 950.6,53.7 951.1,53.9 951.6,52.6 952.1,56.3 952.6,55.6 953.1,54.8 953.6,53.5 954.1,54.5 954.6,53.9 955.1,53.7 955.6,53.3 956.1,51.6 956.6,53.7 957.1,55.3 957.5,54.9 958.0,53.4 958.5,55.2 959.0,52.7 959.5,50.8 960.0,56.2 960.5,53.7 961.0,51.5 961.5,55.4 962.0,54.7 962.5,55.4 963.0,54.1 963.5,51.3 964.0,52.0 964.5,52.4 965.0,50.7 965.5,51.8 966.0,55.0 966.5,54.5 967.0,53.8 967.5,54.1 968.0,54.8 968.5,55.5 969.0,53.3 969.5,52.3 970.0,55.6 970.5,51.2 971.0,55.5 971.5,53.5 972.0,54.4 972.5,54.5 973.0,51.8 973.5,55.5 974.0,51.0 974.5,52.2 975.0,53.4 975.5,52.7 976.0,52.4 976.5,54.0 977.0,56.8 977.5,55.2 978.0,54.3 978.5,54.4 979.0,53.9 979.5,53.9 980.0,54.3 980.5,50.0 981.0,54.5 981.5,53.5 982.0,54.1 982.5,52.0 983.0,53.6 983.5,53.9 984.0,54.1 984.5,55.0 985.0,55.2 985.5,52.2 986.0,54.3 986.5,52.4 987.0,53.9 987.5,53.6 988.0,53.7 988.5,52.2 989.0,54.5 989.5,52.4 990.0,50.8 990.5,55.0 991.0,53.6 991.5,54.2 992.0,51.6 992.5,53.4 993.0,55.4 993.5,53.3 994.0,54.2 994.5,54.3 995.0,52.6 995.5,53.5 996.0,54.1 996.5,53.3 997.0,53.5 997.5,54.4 998.0,54.5 998.5,52.8 999.0,52.1 999.5,53.2 1000.0,54.3 1000.5,53.9 1000.5,75.0 1000.0,73.8 999.5,74.8 999.0,73.4 998.5,75.2 998.0,73.0 997.5,74.5 997.0,80.1 996.5,75.0 996.0,76.2 995.5,77.0 995.0,73.9 994.5,77.5 994.0,77.7 993.5,74.2 993.0,76.0 992.5,73.7 992.0,76.6 991.5,76.7 991.0,77.1 990.5,74.9 990.0,76.6 989.5,76.3 989.0,75.0 988.5,77.0 988.0,77.5 987.5,76.3 987.0,85.6 986.5,80.2 986.0,73.8 985.5,73.3 985.0,75.5 984.5,75.5 984.0,74.6 983.5,74.0 983.0,74.7 982.5,79.7 982.0,74.0 981.5,78.3 981.0,74.8 980.5,75.4 980.0,74.9 979.5,74.6 979.0,75.2 978.5,74.2 978.0,74.0 977.5,74.5 977.0,75.1 976.5,78.7 976.0,76.6 975.5,75.1 975.0,76.2 974.5,74.5 974.0,72.9 973.5,75.1 973.0,74.1 972.5,78.2 972.0,76.7 971.5,73.3 971.0,74.6 970.5,75.0 970.0,74.8 969.5,74.7 969.0,73.8 968.5,74.9 968.0,72.7 967.5,74.0 967.0,74.0 966.5,75.0 966.0,77.6 965.5,74.4 965.0,75.3 964.5,74.2 964.0,80.8 963.5,74.4 963.0,74.4 962.5,74.7 962.0,74.4 961.5,73.2 961.0,73.4 960.5,78.4 960.0,73.3 959.5,75.9 959.0,72.7 958.5,79.2 958.0,75.2 957.5,74.4 957.1,74.3 956.6,74.3 956.1,75.2 955.6,73.7 955.1,76.2 954.6,76.5 954.1,74.3 953.6,74.3 953.1,76.8 952.6,77.1 952.1,73.7 951.6,73.8 951.1,77.2 950.6,74.5 950.1,75.8 949.6,74.9 949.1,77.0 948.6,80.1 948.1,73.6 947.6,77.2 947.1,74.7 946.6,73.3 946.1,75.8 945.6,73.7 945.1,73.7 944.6,75.2 944.1,79.8 943.6,74.6 943.1,73.9 942.6,74.9 942.1,73.5 941.6,74.5 941.1,74.8 940.6,76.6 940.1,76.2 939.6,74.0 939.1,73.1 938.6,74.2 938.1,74.8 937.6,73.5 937.1,73.8 936.6,76.4 936.1,73.3 935.6,76.9 935.1,74.1 934.6,72.9 934.1,75.2 933.6,76.1 933.1,73.1 932.6,78.0 932.1,77.0 931.6,80.7 931.1,77.1 930.6,74.3 930.1,78.9 929.6,75.4 929.1,75.6 928.6,75.5 928.1,73.4 927.6,74.1 927.1,74.7 926.6,73.3 926.1,74.0 925.6,76.6 925.1,75.9 924.6,74.9 924.1,74.2 923.6,74.9 923.1,74.6 922.6,76.7 922.1,75.7 921.6,80.4 921.1,79.7 920.6,74.2 920.1,73.9 919.6,74.6 919.1,76.1 918.6,75.0 918.1,78.1 917.6,73.9 917.1,74.6 916.6,73.4 916.1,74.0 915.6,76.4 915.1,73.7 914.6,73.6 914.1,75.7 913.6,76.1 913.1,75.8 912.6,76.3 912.1,75.1 911.6,76.3 911.1,75.5 910.6,75.8 910.1,77.8 909.6,75.5 909.1,77.1 908.6,75.8 908.1,73.8 907.6,77.1 907.1,75.1 906.6,74.5 906.1,78.7 905.6,74.6 905.1,77.5 904.6,77.4 904.1,78.8 903.6,74.9 903.1,73.7 902.6,75.6 902.1,75.3 901.6,75.7 901.1,76.7 900.6,76.1 900.1,76.2 899.6,74.8 899.1,76.2 898.6,77.7 898.1,72.7 897.6,72.7 897.1,75.7 896.6,75.3 896.1,76.4 895.6,74.0 895.1,74.8 894.6,75.3 894.1,76.2 893.6,75.3 893.1,74.1 892.6,74.7 892.1,76.1 891.6,75.3 891.1,74.7 890.6,74.9 890.1,75.5 889.6,72.5 889.1,77.8 888.6,73.6 888.1,74.6 887.6,74.3 887.1,77.9 886.6,75.9 886.1,75.0 885.6,75.5 885.1,74.8 884.6,74.4 884.1,73.0 883.6,74.5 883.1,74.3 882.6,74.5 882.1,73.3 881.6,74.1 881.1,74.2 880.6,75.6 880.1,74.5 879.6,73.9 879.1,74.3 878.6,74.5 878.1,74.7 877.6,75.1 877.1,73.4 876.6,77.1 876.1,74.7 875.6,73.4 875.1,73.1 874.6,73.6 874.1,72.7 873.6,73.1 873.1,73.3 872.6,73.3 872.1,75.1 871.6,75.3 871.1,75.4 870.7,73.7 870.2,74.6 869.7,74.2 869.2,76.0 868.7,74.0 868.2,74.7 867.7,72.6 867.2,73.8 866.7,75.5 866.2,74.8 865.7,73.7 865.2,74.4 864.7,74.7 864.2,74.1 863.7,76.2 863.2,73.4 862.7,73.9 862.2,73.8 861.7,74.5 861.2,73.2 860.7,76.6 860.2,75.8 859.7,75.6 859.2,76.5 858.7,76.4 858.2,73.7 857.7,73.5 857.2,74.8 856.7,73.7 856.2,75.3 855.7,76.6 855.2,72.7 854.7,73.6 854.2,74.7 853.7,74.7 853.2,74.9 852.7,74.2 852.2,75.1 851.7,73.8 851.2,77.5 850.7,74.5 850.2,74.2 849.7,80.1 849.2,75.2 848.7,75.0 848.2,76.3 847.7,75.2 847.2,73.5 846.7,74.9 846.2,75.0 845.7,74.7 845.2,72.7 844.7,74.0 844.2,74.9 843.7,80.6 843.2,77.6 842.7,73.6 842.2,77.0 841.7,75.1 841.2,74.8 840.7,75.3 840.2,76.8 839.7,73.3 839.2,77.7 838.7,75.3 838.2,74.0 837.7,76.0 837.2,75.5 836.7,74.7 836.2,74.0 835.7,76.0 835.2,74.5 834.7,74.7 834.2,74.1 833.7,75.2 833.2,79.4 832.7,75.5 832.2,77.6 831.7,78.9 831.2,75.6 830.7,74.4 830.2,75.1 829.7,76.0 829.2,75.5 828.7,74.9 828.2,76.4 827.7,80.4 827.2,78.4 826.7,75.2 826.2,76.4 825.7,75.6 825.2,75.2 824.7,74.7 824.2,75.4 823.7,78.1 823.2,74.8 822.7,74.7 822.2,75.2 821.7,78.0 821.2,75.0 820.7,78.8 820.2,74.2 819.7,73.7 819.2,77.8 818.7,74.5 818.2,78.4 817.7,76.9 817.2,75.0 816.7,75.7 816.2,75.9 815.7,73.9 815.2,75.7 814.7,75.8 814.2,75.5 813.7,74.1 813.2,75.1 812.7,81.6 812.2,74.3 811.7,76.9 811.2,74.8 810.7,74.1 810.2,76.3 809.7,74.6 809.2,73.1 808.7,77.3 808.2,74.9 807.7,74.6 807.2,75.2 806.7,76.6 806.2,76.0 805.7,75.2 805.2,74.4 804.7,75.3 804.2,74.9 803.7,74.9 803.2,75.2 802.7,74.3 802.2,77.1 801.7,77.0 801.2,74.1 800.7,72.8 800.2,76.6 799.7,74.1 799.2,75.7 798.7,77.4 798.2,73.4 797.7,74.4 797.2,77.8 796.7,75.2 796.2,76.0 795.7,74.8 795.2,79.5 794.7,74.0 794.2,73.4 793.7,72.9 793.2,74.2 792.7,78.5 792.2,73.5 791.7,75.5 791.2,75.4 790.7,73.8 790.2,74.9 789.7,75.2 789.2,72.9 788.7,79.3 788.2,75.8 787.7,74.6 787.2,74.3 786.7,73.9 786.2,75.6 785.7,75.6 785.2,72.6 784.7,75.2 784.3,72.9 783.8,74.4 783.3,73.2 782.8,73.8 782.3,76.2 781.8,73.7 781.3,74.7 780.8,74.2 780.3,73.1 779.8,74.9 779.3,78.0 778.8,74.1 778.3,76.0 777.8,76.0 777.3,75.1 776.8,72.9 776.3,77.6 775.8,75.9 775.3,74.0 774.8,73.3 774.3,74.1 773.8,75.0 773.3,73.9 772.8,73.5 772.3,74.8 771.8,72.9 771.3,75.2 770.8,74.1 770.3,74.1 769.8,75.2 769.3,74.9 768.8,75.6 768.3,75.8 767.8,78.4 767.3,75.3 766.8,76.2 766.3,76.7 765.8,74.4 765.3,74.5 764.8,75.3 764.3,74.7 763.8,75.0 763.3,75.1 762.8,76.2 762.3,74.1 761.8,72.8 761.3,75.5 760.8,78.9 760.3,74.7 759.8,75.1 759.3,77.6 758.8,75.6 758.3,74.7 757.8,75.4 757.3,76.5 756.8,75.8 756.3,75.8 755.8,75.3 755.3,75.5 754.8,74.1 754.3,75.9 753.8,74.5 753.3,77.1 752.8,77.9 752.3,76.5 751.8,75.2 751.3,75.4 750.8,75.2 750.3,75.0 749.8,77.7 749.3,76.4 748.8,76.4 748.3,74.5 747.8,75.1 747.3,73.7 746.8,77.9 746.3,74.6 745.8,78.4 745.3,74.0 744.8,73.7 744.3,77.0 743.8,76.3 743.3,74.5 742.8,75.5 742.3,73.6 741.8,74.9 741.3,77.2 740.8,76.9 740.3,75.8 739.8,76.8 739.3,80.6 738.8,77.1 738.3,75.9 737.8,75.1 737.3,75.6 736.8,77.2 736.3,74.3 735.8,78.5 735.3,75.5 734.8,74.0 734.3,73.7 733.8,74.8 733.3,74.2 732.8,75.6 732.3,76.1 731.8,75.4 731.3,75.7 730.8,77.9 730.3,74.3 729.8,77.1 729.3,75.9 728.8,75.2 728.3,73.9 727.8,75.2 727.3,75.5 726.8,73.9 726.3,74.8 725.8,75.3 725.3,75.6 724.8,76.5 724.3,74.9 723.8,76.3 723.3,75.4 722.8,76.6 722.3,76.1 721.8,73.3 721.3,74.4 720.8,78.1 720.3,76.9 719.8,74.2 719.3,76.5 718.8,75.4 718.3,76.1 717.8,74.6 717.3,74.0 716.8,75.1 716.3,75.3 715.8,74.4 715.3,75.3 714.8,73.6 714.3,75.1 713.8,74.3 713.3,76.5 712.8,73.6 712.3,78.0 711.8,73.5 711.3,78.1 710.8,73.1 710.3,73.5 709.8,72.3 709.3,73.4 708.8,75.0 708.3,76.0 707.8,73.6 707.3,75.0 706.8,74.5 706.3,75.0 705.8,75.1 705.3,74.8 704.8,74.3 704.3,74.6 703.8,74.6 703.3,75.8 702.8,74.2 702.3,73.3 701.8,73.5 701.3,75.3 700.8,72.5 700.3,76.1 699.8,73.5 699.3,77.3 698.8,72.7 698.4,75.7 697.9,73.4 697.4,73.3 696.9,74.0 696.4,73.5 695.9,75.6 695.4,75.7 694.9,76.0 694.4,74.9 693.9,78.4 693.4,73.9 692.9,76.0 692.4,75.6 691.9,75.7 691.4,76.3 690.9,74.4 690.4,77.2 689.9,74.3 689.4,73.7 688.9,75.8 688.4,74.6 687.9,73.7 687.4,77.4 686.9,76.4 686.4,79.7 685.9,75.6 685.4,75.6 684.9,76.8 684.4,74.5 683.9,73.7 683.4,73.3 682.9,76.8 682.4,74.0 681.9,77.0 681.4,76.6 680.9,76.1 680.4,75.6 679.9,75.3 679.4,76.8 678.9,75.1 678.4,73.5 677.9,78.2 677.4,75.9 676.9,75.7 676.4,75.4 675.9,76.4 675.4,72.8 674.9,75.7 674.4,79.1 673.9,76.3 673.4,75.7 672.9,77.7 672.4,77.8 671.9,73.9 671.4,73.9 670.9,75.5 670.4,76.1 669.9,75.4 669.4,73.7 668.9,81.3 668.4,77.2 667.9,75.2 667.4,78.0 666.9,79.6 666.4,76.4 665.9,72.7 665.4,74.2 664.9,76.6 664.4,77.3 663.9,75.4 663.4,76.3 662.9,74.5 662.4,75.8 661.9,75.1 661.4,74.8 660.9,75.0 660.4,75.9 659.9,74.9 659.4,74.5 658.9,74.6 658.4,76.1 657.9,75.9 657.4,77.6 656.9,75.8 656.4,73.2 655.9,73.7 655.4,74.3 654.9,72.3 654.4,77.7 653.9,75.7 653.4,75.2 652.9,76.9 652.4,76.4 651.9,73.7 651.4,77.4 650.9,74.1 650.4,76.6 649.9,75.0 649.4,74.3 648.9,77.4 648.4,75.9 647.9,76.6 647.4,73.0 646.9,77.2 646.4,77.0 645.9,74.4 645.4,74.7 644.9,75.2 644.4,75.2 643.9,74.5 643.4,77.0 642.9,75.1 642.4,74.0 641.9,72.8 641.4,72.7 640.9,73.4 640.4,76.1 639.9,75.7 639.4,75.7 638.9,75.8 638.4,77.2 637.9,75.3 637.4,75.3 636.9,76.1 636.4,79.4 635.9,72.9 635.4,75.7 634.9,76.1 634.4,75.4 633.9,76.1 633.4,75.0 632.9,74.6 632.4,77.2 631.9,74.4 631.4,74.4 630.9,75.1 630.4,77.5 629.9,75.6 629.4,75.0 628.9,73.5 628.4,74.2 627.9,72.9 627.4,74.7 626.9,76.6 626.4,77.9 625.9,73.9 625.4,75.3 624.9,73.6 624.4,74.8 623.9,73.3 623.4,76.4 622.9,74.9 622.4,73.6 621.9,74.7 621.4,74.5 620.9,75.0 620.4,74.4 619.9,74.0 619.4,74.2 618.9,72.3 618.4,73.7 617.9,76.0 617.4,72.1 616.9,76.7 616.4,75.4 615.9,73.2 615.4,74.5 614.9,74.5 614.4,75.6 613.9,77.9 613.4,74.6 612.9,74.4 612.4,75.5 612.0,76.3 611.5,73.8 611.0,82.4 610.5,74.2 610.0,75.3 609.5,74.9 609.0,73.7 608.5,73.2 608.0,75.9 607.5,78.0 607.0,73.6 606.5,77.4 606.0,77.0 605.5,75.1 605.0,75.4 604.5,75.1 604.0,78.1 603.5,75.7 603.0,78.5 602.5,73.3 602.0,76.4 601.5,79.2 601.0,75.0 600.5,73.4 600.0,75.7 599.5,73.9 599.0,77.0 598.5,75.7 598.0,73.3 597.5,74.2 597.0,74.7 596.5,79.2 596.0,75.6 595.5,78.1 595.0,74.7 594.5,75.6 594.0,73.1 593.5,78.2 593.0,73.0 592.5,78.9 592.0,73.7 591.5,75.7 591.0,75.9 590.5,75.6 590.0,75.6 589.5,73.8 589.0,74.1 588.5,75.8 588.0,76.1 587.5,77.5 587.0,74.1 586.5,77.0 586.0,73.1 585.5,74.5 585.0,78.0 584.5,75.0 584.0,77.1 583.5,77.1 583.0,76.0 582.5,74.7 582.0,75.1 581.5,74.2 581.0,76.8 580.5,78.5 580.0,76.5 579.5,76.3 579.0,75.4 578.5,75.8 578.0,73.4 577.5,75.6 577.0,77.4 576.5,76.6 576.0,73.3 575.5,76.8 575.0,77.4 574.5,74.4 574.0,73.6 573.5,76.1 573.0,74.5 572.5,74.1 572.0,76.9 571.5,77.4 571.0,74.6 570.5,74.2 570.0,76.9 569.5,74.3 569.0,76.6 568.5,73.6 568.0,76.2 567.5,76.7 567.0,73.9 566.5,74.2 566.0,73.7 565.5,75.1 565.0,77.0 564.5,75.3 564.0,75.1 563.5,75.7 563.0,72.8 562.5,78.5 562.0,76.1 561.5,74.9 561.0,78.8 560.5,74.7 560.0,75.5 559.5,75.2 559.0,74.2 558.5,75.5 558.0,72.5 557.5,76.6 557.0,76.1 556.5,74.1 556.0,74.5 555.5,75.1 555.0,76.0 554.5,78.8 554.0,73.8 553.5,73.7 553.0,75.6 552.5,74.6 552.0,74.0 551.5,74.9 551.0,75.4 550.5,74.7 550.0,74.0 549.5,74.6 549.0,74.1 548.5,74.6 548.0,75.3 547.5,75.0 547.0,75.9 546.5,74.0 546.0,74.2 545.5,75.5 545.0,74.7 544.5,73.8 544.0,74.7 543.5,75.9 543.0,75.7 542.5,72.9 542.0,72.7 541.5,72.5 541.0,77.9 540.5,73.5 540.0,73.5 539.5,77.1 539.0,75.0 538.5,75.7 538.0,73.7 537.5,74.9 537.0,75.8 536.5,75.6 536.0,75.4 535.5,75.1 535.0,74.8 534.5,75.5 534.0,74.6 533.5,73.2 533.0,74.6 532.5,74.2 532.0,74.4 531.5,75.3 531.0,72.7 530.5,76.9 530.0,75.1 529.5,74.9 529.0,76.0 528.5,74.4 528.0,72.6 527.5,73.6 527.0,75.2 526.5,73.3 526.0,75.3 525.6,72.5 525.1,73.4 524.6,76.5 524.1,75.8 523.6,77.6 523.1,74.8 522.6,75.4 522.1,74.8 521.6,79.2 521.1,74.6 520.6,75.4 520.1,74.2 519.6,74.9 519.1,76.0 518.6,74.7 518.1,76.8 517.6,74.4 517.1,73.8 516.6,74.8 516.1,77.0 515.6,73.6 515.1,75.0 514.6,74.7 514.1,74.1 513.6,74.9 513.1,76.4 512.6,73.3 512.1,74.6 511.6,73.2 511.1,74.6 510.6,74.8 510.1,77.1 509.6,77.4 509.1,73.1 508.6,77.0 508.1,78.3 507.6,77.1 507.1,77.0 506.6,77.1 506.1,75.3 505.6,74.8 505.1,74.2 504.6,76.9 504.1,76.2 503.6,74.9 503.1,74.7 502.6,76.0 502.1,77.0 501.6,75.9 501.1,76.3 500.6,77.4 500.1,76.1 499.6,75.2 499.1,75.2 498.6,75.1 498.1,74.9 497.6,74.0 497.1,75.8 496.6,77.2 496.1,77.9 495.6,74.4 495.1,76.1 494.6,74.4 494.1,76.2 493.6,77.6 493.1,73.6 492.6,77.1 492.1,74.9 491.6,76.4 491.1,77.2 490.6,75.4 490.1,73.8 489.6,75.0 489.1,76.1 488.6,75.9 488.1,73.9 487.6,76.6 487.1,78.2 486.6,76.6 486.1,73.5 485.6,76.2 485.1,73.0 484.6,74.8 484.1,74.1 483.6,74.2 483.1,74.1 482.6,75.7" fill="#0000ff" stroke="#0000ff" stroke-width="0.3"/>
<line x1="496.8" y1="26.40" x2="496.8" y2="97.10" stroke="#4a4aff" stroke-width="0.9"/>
<rect x="482.30" y="26.40" width="518.50" height="70.70" fill="none" stroke="#858585" stroke-width="0.9"/>
<path d="M547.17 97.10v-4.5M547.17 26.40v4.5" stroke="#858585" stroke-width="0.8"/><path d="M612.05 97.10v-4.5M612.05 26.40v4.5" stroke="#858585" stroke-width="0.8"/><path d="M676.92 97.10v-4.5M676.92 26.40v4.5" stroke="#858585" stroke-width="0.8"/><path d="M741.80 97.10v-4.5M741.80 26.40v4.5" stroke="#858585" stroke-width="0.8"/><path d="M806.67 97.10v-4.5M806.67 26.40v4.5" stroke="#858585" stroke-width="0.8"/><path d="M871.55 97.10v-4.5M871.55 26.40v4.5" stroke="#858585" stroke-width="0.8"/><path d="M936.42 97.10v-4.5M936.42 26.40v4.5" stroke="#858585" stroke-width="0.8"/><path d="M482.30 27.80h4.5M1000.80 27.80h-4.5" stroke="#858585" stroke-width="0.8"/><path d="M482.30 46.10h4.5M1000.80 46.10h-4.5" stroke="#858585" stroke-width="0.8"/><path d="M482.30 64.40h4.5M1000.80 64.40h-4.5" stroke="#858585" stroke-width="0.8"/><path d="M482.30 82.70h4.5M1000.80 82.70h-4.5" stroke="#858585" stroke-width="0.8"/>
<text class="b" x="477.50" y="33.70" text-anchor="end">10</text><text class="b" x="477.50" y="52.00" text-anchor="end">5</text><text class="b" x="477.50" y="70.30" text-anchor="end">0</text><text class="b" x="477.50" y="88.60" text-anchor="end">-5</text>
<text class="b" x="482.60" y="116.60" text-anchor="middle">0</text><text class="b" x="547.47" y="116.60" text-anchor="middle">0.5</text><text class="b" x="612.35" y="116.60" text-anchor="middle">1</text><text class="b" x="677.22" y="116.60" text-anchor="middle">1.5</text><text class="b" x="742.10" y="116.60" text-anchor="middle">2</text><text class="b" x="806.97" y="116.60" text-anchor="middle">2.5</text><text class="b" x="871.85" y="116.60" text-anchor="middle">3</text><text class="b" x="936.72" y="116.60" text-anchor="middle">3.5</text>
<text class="t" x="686.80" y="22.60" textLength="109.5" lengthAdjust="spacingAndGlyphs">Original signal</text>
<text class="t" x="713.00" y="130.10" textLength="59.2" lengthAdjust="spacingAndGlyphs">Time (s)</text>
<text class="b" x="1004.50" y="68.60" textLength="19.5" lengthAdjust="spacingAndGlyphs">(b)</text>
<polyline points="482.7,221.1 483.0,221.8 483.3,217.7 483.6,224.6 483.9,220.2 484.1,219.2 484.4,225.1 484.7,223.9 485.0,218.9 485.3,217.3 485.6,219.2 485.9,221.5 486.2,221.0 486.4,221.9 486.7,220.5 487.0,221.7 487.3,222.4 487.6,224.7 487.9,225.5 488.2,222.8 488.5,225.7 488.7,223.2 489.0,225.3 489.3,223.6 489.6,224.1 489.9,219.2 490.2,222.9 490.5,218.7 490.8,221.8 491.0,222.2 491.3,221.5 491.6,220.3 491.9,222.4 492.2,219.9 492.5,224.6 492.8,222.7 493.1,221.3 493.3,221.9 493.6,217.8 493.9,222.2 494.2,214.5 494.5,224.8 494.8,220.8 495.1,224.6 495.4,220.4 495.6,219.6 495.9,227.4 496.2,219.1 496.5,223.7 496.8,225.1 497.1,222.3 497.4,220.8 497.7,224.2 498.0,222.4 498.2,223.5 498.5,221.4 498.8,224.8 499.1,225.8 499.4,222.4 499.7,222.4 500.0,225.3 500.3,220.8 500.5,225.9 500.8,223.3 501.1,221.7 501.4,224.4 501.7,224.1 502.0,216.7 502.3,224.5 502.6,219.8 502.8,214.5 503.1,219.3 503.4,216.0 503.7,220.8 504.0,218.8 504.3,219.7 504.6,216.9 504.9,217.3 505.1,217.6 505.4,220.2 505.7,223.9 506.0,222.3 506.3,222.1 506.6,221.7 506.9,218.9 507.2,226.0 507.4,227.4 507.7,221.7 508.0,227.4 508.3,222.7 508.6,223.4 508.9,225.1 509.2,223.1 509.5,222.2 509.8,221.2 510.0,226.8 510.3,227.4 510.6,227.4 510.9,224.7 511.2,223.4 511.5,223.1 511.8,226.1 512.1,227.4 512.3,223.7 512.6,226.9 512.9,222.5 513.2,221.1 513.5,223.9 513.8,221.6 514.1,223.7 514.4,221.6 514.6,219.6 514.9,216.4 515.2,218.2 515.5,224.0 515.8,216.3 516.1,223.7 516.4,221.2 516.7,217.0 516.9,223.2 517.2,224.6 517.5,219.6 517.8,222.5 518.1,225.3 518.4,222.5 518.7,223.7 519.0,222.7 519.2,220.6 519.5,219.1 519.8,221.8 520.1,217.8 520.4,225.1 520.7,222.0 521.0,225.6 521.3,222.4 521.5,225.6 521.8,223.0 522.1,220.4 522.4,219.9 522.7,221.2 523.0,219.7 523.3,220.7 523.6,219.6 523.9,221.1 524.1,221.7 524.4,223.2 524.7,220.7 525.0,220.8 525.3,218.2 525.6,219.6 525.9,217.9 526.2,220.1 526.4,218.0 526.7,218.6 527.0,219.5 527.3,223.7 527.6,223.2 527.9,224.5 528.2,225.3 528.5,220.9 528.7,216.9 529.0,225.1 529.3,221.5 529.6,215.8 529.9,218.8 530.2,220.9 530.5,220.9 530.8,218.9 531.0,224.6 531.3,223.9 531.6,223.0 531.9,220.7 532.2,227.4 532.5,226.1 532.8,224.5 533.1,221.7 533.3,227.3 533.6,220.1 533.9,220.4 534.2,221.5 534.5,222.3 534.8,224.1 535.1,222.3 535.4,219.0 535.6,223.7 535.9,220.7 536.2,216.7 536.5,220.5 536.8,216.3 537.1,227.1 537.4,225.7 537.7,221.0 538.0,221.4 538.2,220.2 538.5,220.5 538.8,224.6 539.1,218.9 539.4,215.9 539.7,220.8 540.0,221.1 540.3,217.8 540.5,219.0 540.8,215.5 541.1,223.4 541.4,221.3 541.7,223.8 542.0,225.1 542.3,223.7 542.6,224.0 542.8,224.8 543.1,220.6 543.4,224.6 543.7,226.4 544.0,219.9 544.3,219.9 544.6,223.2 544.9,220.6 545.1,219.4 545.4,221.9 545.7,220.1 546.0,221.3 546.3,220.8 546.6,220.3 546.9,216.2 547.2,217.4 547.4,215.8 547.7,220.0 548.0,218.7 548.3,219.7 548.6,223.0 548.9,223.9 549.2,218.4 549.5,222.9 549.8,218.9 550.0,221.4 550.3,220.9 550.6,221.4 550.9,220.1 551.2,220.9 551.5,222.5 551.8,221.3 552.1,226.6 552.3,226.4 552.6,226.7 552.9,227.4 553.2,223.0 553.5,226.8 553.8,221.6 554.1,221.3 554.4,225.7 554.6,224.3 554.9,222.2 555.2,218.7 555.5,224.1 555.8,222.4 556.1,224.6 556.4,221.6 556.7,222.5 556.9,225.5 557.2,217.6 557.5,216.9 557.8,222.9 558.1,215.3 558.4,220.2 558.7,216.3 559.0,224.2 559.2,225.0 559.5,224.7 559.8,224.7 560.1,223.8 560.4,224.5 560.7,220.0 561.0,217.5 561.3,224.2 561.5,218.1 561.8,226.6 562.1,222.5 562.4,215.5 562.7,223.9 563.0,221.9 563.3,221.5 563.6,226.8 563.9,223.6 564.1,224.7 564.4,222.3 564.7,222.7 565.0,227.3 565.3,220.9 565.6,224.4 565.9,221.3 566.2,222.4 566.4,223.3 566.7,223.3 567.0,224.4 567.3,223.3 567.6,224.3 567.9,223.2 568.2,226.4 568.5,220.2 568.7,222.0 569.0,218.9 569.3,222.9 569.6,222.8 569.9,218.3 570.2,224.3 570.5,226.1 570.8,219.1 571.0,223.1 571.3,219.3 571.6,218.0 571.9,222.0 572.2,223.9 572.5,224.1 572.8,221.3 573.1,216.7 573.3,221.6 573.6,221.0 573.9,219.1 574.2,219.3 574.5,222.9 574.8,218.0 575.1,217.6 575.4,218.5 575.7,223.2 575.9,220.0 576.2,214.5 576.5,219.8 576.8,221.4 577.1,223.7 577.4,224.3 577.7,222.4 578.0,224.3 578.2,224.2 578.5,223.0 578.8,220.0 579.1,221.6 579.4,222.6 579.7,217.1 580.0,224.8 580.3,225.8 580.5,221.5 580.8,227.4 581.1,227.1 581.4,226.6 581.7,227.4 582.0,226.0 582.3,224.5 582.6,222.9 582.8,224.0 583.1,224.6 583.4,221.1 583.7,224.9 584.0,221.9 584.3,223.4 584.6,221.5 584.9,224.2 585.1,219.1 585.4,220.5 585.7,219.0 586.0,222.0 586.3,223.3 586.6,221.6 586.9,225.1 587.2,227.4 587.4,220.5 587.7,219.3 588.0,222.9 588.3,221.7 588.6,222.5 588.9,224.5 589.2,223.2 589.5,222.4 589.8,221.0 590.0,221.4 590.3,223.7 590.6,225.3 590.9,226.5 591.2,225.5 591.5,222.2 591.8,227.4 592.1,224.9 592.3,225.1 592.6,225.2 592.9,221.5 593.2,220.5 593.5,221.9 593.8,218.5 594.1,224.8 594.4,220.6 594.6,216.6 594.9,217.4 595.2,218.3 595.5,218.5 595.8,217.9 596.1,219.9 596.4,223.6 596.7,224.0 596.9,222.9 597.2,221.4 597.5,221.1 597.8,223.3 598.1,218.5 598.4,217.9 598.7,219.8 599.0,221.1 599.2,221.6 599.5,221.2 599.8,220.7 600.1,225.6 600.4,223.6 600.7,222.0 601.0,219.5 601.3,223.6 601.5,216.2 601.8,221.4 602.1,224.5 602.4,227.4 602.7,222.6 603.0,221.6 603.3,227.0 603.6,223.1 603.9,227.4 604.1,220.6 604.4,217.8 604.7,223.1 605.0,224.0 605.3,218.9 605.6,222.8 605.9,217.6 606.2,221.1 606.4,227.3 606.7,224.9 607.0,223.3 607.3,222.2 607.6,224.1 607.9,226.7 608.2,220.8 608.5,222.6 608.7,224.1 609.0,219.4 609.3,221.8 609.6,225.6 609.9,220.4 610.2,221.6 610.5,223.9 610.8,218.7 611.0,220.7 611.3,220.8 611.6,223.4 611.9,218.5 612.2,218.8 612.5,219.2 612.8,224.8 613.1,222.2 613.3,220.9 613.6,221.0 613.9,219.4 614.2,221.7 614.5,222.7 614.8,224.2 615.1,224.7 615.4,220.9 615.7,222.2 615.9,222.2 616.2,224.2 616.5,224.0 616.8,223.4 617.1,226.2 617.4,221.8 617.7,222.8 618.0,223.6 618.2,224.2 618.5,223.0 618.8,224.0 619.1,219.2 619.4,222.6 619.7,222.2 620.0,222.4 620.3,219.3 620.5,217.0 620.8,218.9 621.1,223.4 621.4,217.0 621.7,218.9 622.0,224.3 622.3,223.1 622.6,222.1 622.8,222.7 623.1,222.7 623.4,224.4 623.7,226.2 624.0,221.7 624.3,223.4 624.6,222.2 624.9,218.8 625.1,217.7 625.4,219.1 625.7,220.1 626.0,222.8 626.3,221.0 626.6,221.4 626.9,223.5 627.2,223.6 627.4,218.2 627.7,224.0 628.0,218.2 628.3,219.0 628.6,224.7 628.9,222.5 629.2,225.4 629.5,223.1 629.8,225.6 630.0,224.2 630.3,222.7 630.6,222.6 630.9,224.4 631.2,222.0 631.5,222.0 631.8,222.2 632.1,221.6 632.3,225.9 632.6,219.5 632.9,225.7 633.2,225.8 633.5,219.6 633.8,221.7 634.1,223.3 634.4,223.2 634.6,223.6 634.9,222.7 635.2,221.7 635.5,221.5 635.8,224.8 636.1,223.3 636.4,222.6 636.7,220.5 636.9,223.2 637.2,224.9 637.5,223.7 637.8,220.6 638.1,223.6 638.4,223.0 638.7,219.4 639.0,221.2 639.2,223.6 639.5,222.6 639.8,222.9 640.1,222.9 640.4,222.3 640.7,220.9 641.0,221.9 641.3,225.3 641.5,223.4 641.8,223.6 642.1,222.7 642.4,223.9 642.7,224.1 643.0,219.6 643.3,222.5 643.6,218.2 643.9,222.1 644.1,222.1 644.4,217.6 644.7,223.3 645.0,223.5 645.3,223.6 645.6,224.1 645.9,223.8 646.2,222.7 646.4,221.8 646.7,221.8 647.0,222.5 647.3,224.7 647.6,222.1 647.9,221.1 648.2,221.2 648.5,219.4 648.7,221.7 649.0,216.1 649.3,222.8 649.6,222.8 649.9,220.9 650.2,223.6 650.5,223.6 650.8,224.3 651.0,219.5 651.3,219.8 651.6,220.9 651.9,219.2 652.2,222.8 652.5,220.2 652.8,222.0 653.1,221.8 653.3,217.8 653.6,224.1 653.9,223.7 654.2,224.8 654.5,221.7 654.8,224.7 655.1,224.6 655.4,225.3 655.7,226.5 655.9,225.0 656.2,224.5 656.5,224.9 656.8,222.2 657.1,225.0 657.4,225.6 657.7,220.9 658.0,225.4 658.2,221.3 658.5,221.8 658.8,222.1 659.1,226.5 659.4,224.4 659.7,222.2 660.0,224.3 660.3,221.6 660.5,223.4 660.8,226.6 661.1,227.3 661.4,227.4 661.7,223.9 662.0,224.8 662.3,223.1 662.6,222.8 662.8,222.3 663.1,227.1 663.4,224.7 663.7,224.7 664.0,225.0 664.3,227.4 664.6,224.2 664.9,227.4 665.1,227.4 665.4,226.6 665.7,223.2 666.0,220.3 666.3,224.7 666.6,225.2 666.9,216.9 667.2,222.6 667.4,221.7 667.7,219.3 668.0,220.1 668.3,219.8 668.6,219.2 668.9,220.5 669.2,218.1 669.5,223.4 669.8,223.1 670.0,221.3 670.3,221.8 670.6,222.6 670.9,222.2 671.2,219.2 671.5,224.6 671.8,215.5 672.1,220.2 672.3,215.2 672.6,221.4 672.9,222.6 673.2,221.2 673.5,221.6 673.8,225.7 674.1,224.8 674.4,222.5 674.6,222.1 674.9,224.4 675.2,222.0 675.5,221.2 675.8,220.7 676.1,223.6 676.4,223.4 676.7,224.2 676.9,222.4 677.2,222.5 677.5,225.5 677.8,222.0 678.1,225.5 678.4,221.8 678.7,223.7 679.0,221.7 679.2,222.0 679.5,224.7 679.8,223.1 680.1,225.4 680.4,222.5 680.7,224.8 681.0,223.4 681.3,218.7 681.5,221.5 681.8,221.0 682.1,224.0 682.4,220.6 682.7,222.6 683.0,223.4 683.3,221.3 683.6,224.8 683.9,221.1 684.1,224.3 684.4,222.5 684.7,219.7 685.0,219.3 685.3,220.3 685.6,223.5 685.9,223.2 686.2,220.5 686.4,222.8 686.7,221.8 687.0,226.3 687.3,223.5 687.6,222.1 687.9,222.5 688.2,225.6 688.5,220.0 688.7,220.1 689.0,222.6 689.3,222.4 689.6,226.8 689.9,223.9 690.2,221.1 690.5,220.6 690.8,220.3 691.0,219.5 691.3,223.6 691.6,219.9 691.9,220.6 692.2,221.3 692.5,219.5 692.8,218.4 693.1,219.9 693.3,226.8 693.6,221.3 693.9,225.0 694.2,225.0 694.5,224.4 694.8,224.4 695.1,222.1 695.4,221.7 695.7,226.1 695.9,225.5 696.2,225.5 696.5,226.9 696.8,224.7 697.1,225.6 697.4,223.2 697.7,222.7 698.0,226.9 698.2,221.4 698.5,221.8 698.8,220.6 699.1,222.9 699.4,223.7 699.7,223.5 700.0,221.5 700.3,223.2 700.5,224.0 700.8,226.8 701.1,224.0 701.4,223.4 701.7,227.4 702.0,221.8 702.3,219.6 702.6,224.2 702.8,220.2 703.1,225.6 703.4,220.4 703.7,221.0 704.0,224.4 704.3,223.3 704.6,225.0 704.9,224.3 705.1,224.9 705.4,222.2 705.7,217.9 706.0,225.1 706.3,223.0 706.6,223.8 706.9,225.6 707.2,220.1 707.4,222.3 707.7,225.1 708.0,223.4 708.3,221.5 708.6,222.3 708.9,222.9 709.2,225.7 709.5,225.3 709.8,226.7 710.0,223.4 710.3,223.5 710.6,222.5 710.9,223.5 711.2,221.1 711.5,218.9 711.8,220.4 712.1,220.3 712.3,222.3 712.6,220.0 712.9,223.0 713.2,221.6 713.5,224.6 713.8,223.9 714.1,224.7 714.4,222.8 714.6,222.0 714.9,219.9 715.2,227.2 715.5,221.3 715.8,221.0 716.1,221.6 716.4,220.4 716.7,221.5 716.9,216.9 717.2,219.5 717.5,222.3 717.8,223.3 718.1,222.3 718.4,221.2 718.7,215.4 719.0,221.8 719.2,218.7 719.5,223.0 719.8,222.9 720.1,224.0 720.4,222.8 720.7,221.9 721.0,224.8 721.3,222.2 721.5,223.2 721.8,222.6 722.1,219.8 722.4,222.5 722.7,221.6 723.0,222.4 723.3,220.7 723.6,222.7 723.9,220.9 724.1,220.3 724.4,218.7 724.7,220.6 725.0,224.7 725.3,226.2 725.6,224.1 725.9,221.4 726.2,220.8 726.4,218.5 726.7,224.3 727.0,223.6 727.3,225.2 727.6,224.3 727.9,223.9 728.2,219.2 728.5,220.7 728.7,220.5 729.0,222.1 729.3,223.7 729.6,223.8 729.9,223.4 730.2,219.6 730.5,225.9 730.8,226.2 731.0,217.9 731.3,223.9 731.6,227.0 731.9,225.0 732.2,222.8 732.5,222.1 732.8,223.8 733.1,223.4 733.3,221.1 733.6,221.9 733.9,221.6 734.2,225.5 734.5,224.1 734.8,224.2 735.1,224.7 735.4,223.9 735.7,224.2 735.9,223.5 736.2,227.4 736.5,219.8 736.8,220.4 737.1,218.4 737.4,223.3 737.7,227.1 738.0,223.7 738.2,224.0 738.5,223.5 738.8,225.7 739.1,221.4 739.4,227.4 739.7,221.8 740.0,224.1 740.3,224.7 740.5,221.5 740.8,224.5 741.1,221.2 741.4,225.4 741.7,221.8 742.0,224.7 742.3,227.4 742.6,220.7 742.8,222.6 743.1,218.4 743.4,222.0 743.7,225.7 744.0,223.6 744.3,226.7 744.6,219.8 744.9,222.8 745.1,221.6 745.4,221.1 745.7,222.7 746.0,219.6 746.3,223.4 746.6,224.5 746.9,223.9 747.2,222.3 747.4,222.5 747.7,221.5 748.0,225.4 748.3,221.4 748.6,222.1 748.9,224.7 749.2,221.9 749.5,223.0 749.8,226.9 750.0,225.6 750.3,223.8 750.6,222.3 750.9,219.5 751.2,226.8 751.5,218.1 751.8,225.0 752.1,220.6 752.3,226.8 752.6,222.8 752.9,221.3 753.2,219.0 753.5,223.5 753.8,222.4 754.1,221.8 754.4,221.8 754.6,219.5 754.9,217.1 755.2,225.8 755.5,218.3 755.8,222.7 756.1,223.2 756.4,221.8 756.7,222.1 756.9,222.4 757.2,222.6 757.5,218.3 757.8,218.3 758.1,219.2 758.4,219.4 758.7,222.0 759.0,222.1 759.2,218.9 759.5,223.6 759.8,219.5 760.1,225.0 760.4,223.4 760.7,222.3 761.0,224.5 761.3,227.0 761.6,223.3 761.8,224.1 762.1,225.6 762.4,224.4 762.7,223.0 763.0,224.7 763.3,221.5 763.6,222.1 763.9,215.0 764.1,219.6 764.4,224.9 764.7,222.6 765.0,225.9 765.3,220.8 765.6,223.0 765.9,222.5 766.2,221.3 766.4,223.6 766.7,220.8 767.0,221.4 767.3,221.5 767.6,219.7 767.9,223.2 768.2,225.5 768.5,221.9 768.7,227.0 769.0,224.2 769.3,217.0 769.6,223.0 769.9,220.9 770.2,221.7 770.5,223.2 770.8,224.4 771.0,220.5 771.3,223.8 771.6,226.7 771.9,224.9 772.2,227.4 772.5,226.4 772.8,224.3 773.1,224.2 773.3,223.8 773.6,226.0 773.9,225.7 774.2,224.2 774.5,220.8 774.8,227.4 775.1,226.1 775.4,224.7 775.7,223.1 775.9,223.1 776.2,218.4 776.5,221.5 776.8,222.7 777.1,219.9 777.4,221.7 777.7,222.9 778.0,218.7 778.2,223.4 778.5,219.9 778.8,216.6 779.1,226.3 779.4,226.9 779.7,222.9 780.0,222.0 780.3,223.5 780.5,224.9 780.8,222.1 781.1,225.7 781.4,225.5 781.7,221.5 782.0,217.6 782.3,223.7 782.6,226.3 782.8,222.6 783.1,221.5 783.4,223.9 783.7,222.8 784.0,223.6 784.3,222.9 784.6,223.7 784.9,220.9 785.1,223.9 785.4,221.6 785.7,227.4 786.0,220.9 786.3,220.9 786.6,227.2 786.9,224.9 787.2,225.3 787.4,222.3 787.7,222.0 788.0,221.0 788.3,222.7 788.6,220.4 788.9,219.9 789.2,223.2 789.5,219.1 789.8,220.7 790.0,221.4 790.3,223.4 790.6,222.9 790.9,214.5 791.2,220.0 791.5,223.5 791.8,223.3 792.1,222.9 792.3,223.2 792.6,222.5 792.9,223.3 793.2,227.4 793.5,225.8 793.8,225.7 794.1,222.9 794.4,220.0 794.6,222.8 794.9,224.3 795.2,220.9 795.5,219.3 795.8,220.8 796.1,217.0 796.4,217.4 796.7,220.1 796.9,221.5 797.2,219.8 797.5,221.2 797.8,222.6 798.1,226.1 798.4,221.6 798.7,224.7 799.0,222.9 799.2,221.6 799.5,219.9 799.8,224.2 800.1,221.8 800.4,219.1 800.7,222.3 801.0,226.1 801.3,221.4 801.6,220.9 801.8,222.1 802.1,223.5 802.4,222.6 802.7,225.6 803.0,223.9 803.3,220.5 803.6,219.7 803.9,220.9 804.1,223.1 804.4,218.7 804.7,221.6 805.0,219.2 805.3,225.0 805.6,222.5 805.9,220.5 806.2,222.7 806.4,222.4 806.7,221.4 807.0,224.3 807.3,225.7 807.6,222.4 807.9,222.7 808.2,220.4 808.5,225.3 808.7,221.3 809.0,223.2 809.3,220.0 809.6,225.4 809.9,221.0 810.2,221.2 810.5,222.5 810.8,221.7 811.0,221.0 811.3,222.8 811.6,215.7 811.9,225.0 812.2,215.6 812.5,218.5 812.8,220.5 813.1,221.1 813.3,214.5 813.6,217.5 813.9,215.4 814.2,217.7 814.5,220.3 814.8,224.8 815.1,220.9 815.4,218.3 815.7,225.1 815.9,221.6 816.2,219.0 816.5,223.9 816.8,218.8 817.1,223.1 817.4,222.4 817.7,221.2 818.0,220.6 818.2,222.5 818.5,223.5 818.8,220.6 819.1,219.0 819.4,221.2 819.7,222.2 820.0,221.4 820.3,223.6 820.5,220.9 820.8,223.2 821.1,218.0 821.4,220.6 821.7,220.5 822.0,221.2 822.3,222.6 822.6,222.2 822.8,219.9 823.1,222.8 823.4,222.2 823.7,224.4 824.0,222.1 824.3,222.7 824.6,222.5 824.9,223.6 825.1,222.6 825.4,219.6 825.7,218.3 826.0,216.2 826.3,221.8 826.6,219.3 826.9,221.7 827.2,221.7 827.4,222.0 827.7,220.2 828.0,221.5 828.3,227.2 828.6,226.8 828.9,222.5 829.2,226.3 829.5,219.4 829.8,219.6 830.0,222.0 830.3,222.7 830.6,223.9 830.9,221.8 831.2,223.0 831.5,225.0 831.8,227.1 832.1,219.7 832.3,220.7 832.6,219.6 832.9,220.9 833.2,225.1 833.5,223.4 833.8,222.3 834.1,221.8 834.4,222.3 834.6,219.2 834.9,224.8 835.2,220.9 835.5,224.6 835.8,221.1 836.1,220.1 836.4,226.0 836.7,222.0 836.9,218.9 837.2,220.9 837.5,222.4 837.8,219.2 838.1,221.9 838.4,220.5 838.7,219.0 839.0,218.7 839.2,221.0 839.5,223.3 839.8,226.7 840.1,225.1 840.4,225.2 840.7,220.3 841.0,221.3 841.3,220.5 841.6,218.4 841.8,224.0 842.1,225.6 842.4,222.6 842.7,220.9 843.0,221.6 843.3,224.2 843.6,222.9 843.9,226.0 844.1,225.6 844.4,222.8 844.7,224.2 845.0,222.8 845.3,225.5 845.6,224.2 845.9,221.5 846.2,224.7 846.4,223.0 846.7,225.4 847.0,223.2 847.3,220.7 847.6,219.7 847.9,223.9 848.2,220.5 848.5,223.4 848.7,222.4 849.0,223.2 849.3,221.4 849.6,220.3 849.9,227.0 850.2,226.9 850.5,225.1 850.8,224.5 851.0,225.8 851.3,220.5 851.6,222.2 851.9,221.7 852.2,217.7 852.5,221.3 852.8,225.2 853.1,225.6 853.3,223.1 853.6,220.2 853.9,222.7 854.2,222.8 854.5,223.5 854.8,224.9 855.1,221.2 855.4,220.3 855.7,223.1 855.9,224.3 856.2,220.1 856.5,224.2 856.8,222.1 857.1,223.8 857.4,220.7 857.7,224.4 858.0,225.5 858.2,219.6 858.5,223.9 858.8,220.9 859.1,217.1 859.4,214.6 859.7,222.1 860.0,216.7 860.3,222.7 860.5,220.1 860.8,223.8 861.1,225.1 861.4,223.9 861.7,224.4 862.0,223.6 862.3,226.8 862.6,223.1 862.8,224.1 863.1,221.0 863.4,218.7 863.7,219.1 864.0,219.5 864.3,222.3 864.6,224.4 864.9,221.4 865.1,223.9 865.4,218.1 865.7,223.0 866.0,222.8 866.3,223.7 866.6,226.9 866.9,224.4 867.2,222.1 867.4,225.8 867.7,224.6 868.0,222.5 868.3,217.8 868.6,226.2 868.9,221.3 869.2,219.0 869.5,220.8 869.8,219.8 870.0,223.1 870.3,225.4 870.6,222.6 870.9,221.2 871.2,221.4 871.5,221.6 871.8,223.3 872.1,219.2 872.3,219.0 872.6,218.8 872.9,224.6 873.2,220.5 873.5,225.3 873.8,217.1 874.1,223.7 874.4,225.6 874.6,222.3 874.9,223.5 875.2,223.9 875.5,222.7 875.8,226.4 876.1,227.4 876.4,221.6 876.7,222.9 876.9,226.5 877.2,221.6 877.5,224.3 877.8,224.5 878.1,224.3 878.4,221.1 878.7,223.5 879.0,222.5 879.2,224.8 879.5,221.9 879.8,221.8 880.1,222.6 880.4,225.5 880.7,223.2 881.0,220.3 881.3,221.9 881.6,220.0 881.8,223.2 882.1,221.2 882.4,222.2 882.7,225.7 883.0,223.3 883.3,225.8 883.6,222.4 883.9,223.6 884.1,221.7 884.4,219.9 884.7,224.0 885.0,226.6 885.3,220.4 885.6,221.1 885.9,218.2 886.2,217.8 886.4,221.3 886.7,224.1 887.0,218.8 887.3,220.4 887.6,220.0 887.9,218.5 888.2,223.4 888.5,218.5 888.7,227.4 889.0,221.7 889.3,224.8 889.6,224.6 889.9,227.4 890.2,227.0 890.5,221.7 890.8,227.0 891.0,224.8 891.3,224.3 891.6,224.6 891.9,221.4 892.2,222.1 892.5,220.5 892.8,215.3 893.1,222.3 893.3,223.6 893.6,220.0 893.9,223.2 894.2,221.4 894.5,227.4 894.8,224.9 895.1,225.5 895.4,223.8 895.7,223.9 895.9,222.3 896.2,225.0 896.5,223.8 896.8,222.6 897.1,224.0 897.4,225.0 897.7,225.6 898.0,224.3 898.2,221.8 898.5,227.1 898.8,222.3 899.1,226.5 899.4,227.4 899.7,222.3 900.0,226.0 900.3,223.3 900.5,222.8 900.8,227.2 901.1,220.6 901.4,223.2 901.7,226.0 902.0,222.2 902.3,221.2 902.6,221.8 902.8,215.9 903.1,227.4 903.4,222.5 903.7,221.1 904.0,221.1 904.3,220.8 904.6,221.6 904.9,223.7 905.1,223.7 905.4,225.3 905.7,220.5 906.0,222.4 906.3,221.5 906.6,217.6 906.9,218.9 907.2,220.7 907.4,221.0 907.7,224.0 908.0,225.3 908.3,226.0 908.6,221.8 908.9,221.7 909.2,225.2 909.5,222.1 909.8,218.7 910.0,224.9 910.3,226.3 910.6,224.2 910.9,225.3 911.2,223.1 911.5,226.7 911.8,223.6 912.1,221.2 912.3,224.6 912.6,226.2 912.9,225.9 913.2,221.8 913.5,224.0 913.8,223.7 914.1,219.1 914.4,219.6 914.6,222.5 914.9,221.9 915.2,226.9 915.5,223.0 915.8,221.4 916.1,224.0 916.4,220.4 916.7,224.1 916.9,224.6 917.2,221.8 917.5,223.3 917.8,219.5 918.1,221.6 918.4,221.9 918.7,220.4 919.0,221.4 919.2,225.0 919.5,221.4 919.8,223.0 920.1,221.5 920.4,225.6 920.7,224.8 921.0,221.2 921.3,221.1 921.6,220.6 921.8,222.1 922.1,222.0 922.4,221.3 922.7,225.6 923.0,224.9 923.3,221.4 923.6,223.0 923.9,219.3 924.1,222.9 924.4,220.6 924.7,219.5 925.0,224.3 925.3,219.6 925.6,222.2 925.9,220.6 926.2,224.9 926.4,227.4 926.7,227.4 927.0,223.3 927.3,223.3 927.6,220.2 927.9,224.7 928.2,224.7 928.5,223.7 928.7,226.5 929.0,221.0 929.3,221.1 929.6,223.7 929.9,226.9 930.2,224.9 930.5,222.8 930.8,221.9 931.0,223.5 931.3,222.7 931.6,219.7 931.9,219.8 932.2,221.2 932.5,224.4 932.8,220.2 933.1,222.4 933.3,217.8 933.6,223.3 933.9,219.5 934.2,219.6 934.5,220.1 934.8,219.9 935.1,221.2 935.4,221.6 935.7,223.0 935.9,221.8 936.2,218.6 936.5,219.9 936.8,225.2 937.1,220.2 937.4,220.8 937.7,224.3 938.0,223.9 938.2,222.2 938.5,220.2 938.8,221.2 939.1,221.7 939.4,226.5 939.7,224.7 940.0,223.1 940.3,224.0 940.5,220.0 940.8,219.0 941.1,224.5 941.4,222.2 941.7,221.6 942.0,221.9 942.3,221.5 942.6,224.1 942.8,224.1 943.1,222.0 943.4,219.5 943.7,221.9 944.0,222.0 944.3,221.4 944.6,227.4 944.9,227.2 945.1,225.0 945.4,223.1 945.7,218.6 946.0,221.8 946.3,220.2 946.6,223.2 946.9,224.5 947.2,221.2 947.5,222.9 947.7,222.5 948.0,223.7 948.3,219.5 948.6,222.4 948.9,221.1 949.2,223.8 949.5,222.8 949.8,222.8 950.0,219.1 950.3,226.1 950.6,221.7 950.9,222.2 951.2,216.3 951.5,217.7 951.8,224.6 952.1,223.6 952.3,218.5 952.6,224.5 952.9,224.5 953.2,224.0 953.5,227.4 953.8,226.5 954.1,221.4 954.4,227.1 954.6,221.9 954.9,224.6 955.2,222.0 955.5,220.9 955.8,222.6 956.1,220.1 956.4,225.3 956.7,223.7 956.9,224.4 957.2,217.2 957.5,220.8 957.8,220.4 958.1,221.3 958.4,220.4 958.7,221.7 959.0,223.0 959.2,221.4 959.5,221.4 959.8,226.1 960.1,227.4 960.4,225.3 960.7,225.7 961.0,223.8 961.3,218.8 961.6,227.4 961.8,222.0 962.1,222.8 962.4,224.0 962.7,222.5 963.0,224.4 963.3,221.5 963.6,223.6 963.9,224.5 964.1,225.0 964.4,222.1 964.7,223.4 965.0,214.8 965.3,220.9 965.6,221.4 965.9,224.1 966.2,219.0 966.4,223.0 966.7,224.2 967.0,223.2 967.3,222.2 967.6,221.4 967.9,221.2 968.2,220.9 968.5,221.3 968.7,224.9 969.0,222.5 969.3,219.1 969.6,214.5 969.9,225.6 970.2,219.5 970.5,225.7 970.8,225.1 971.0,224.5 971.3,219.9 971.6,222.7 971.9,227.4 972.2,223.9 972.5,227.4 972.8,226.9 973.1,224.4 973.3,218.1 973.6,226.7 973.9,224.8 974.2,225.9 974.5,219.4 974.8,222.7 975.1,223.0 975.4,222.5 975.7,220.6 975.9,218.9 976.2,222.7 976.5,226.3 976.8,222.6 977.1,222.6 977.4,219.8 977.7,220.4 978.0,221.0 978.2,223.2 978.5,221.9 978.8,223.5 979.1,225.3 979.4,221.6 979.7,221.8 980.0,224.0 980.3,221.3 980.5,221.6 980.8,223.8 981.1,223.5 981.4,221.2 981.7,222.8 982.0,226.0 982.3,222.7 982.6,225.4 982.8,217.7 983.1,225.2 983.4,220.8 983.7,223.2 984.0,222.0 984.3,220.0 984.6,226.0 984.9,222.0 985.1,222.0 985.4,220.8 985.7,223.6 986.0,223.3 986.3,222.0 986.6,222.9 986.9,223.9 987.2,225.5 987.5,224.5 987.7,221.1 988.0,219.3 988.3,222.0 988.6,227.4 988.9,219.4 989.2,221.7 989.5,220.9 989.8,223.5 990.0,223.0 990.3,218.5 990.6,225.0 990.9,224.1 991.2,222.3 991.5,221.1 991.8,222.4 992.1,222.0 992.3,220.3 992.6,222.8 992.9,218.0 993.2,221.7 993.5,216.4 993.8,218.4 994.1,220.5 994.4,223.2 994.6,221.1 994.9,223.6 995.2,223.1 995.5,219.0 995.8,223.2 996.1,220.9 996.4,221.1 996.7,217.8 996.9,219.4 997.2,221.3 997.5,221.8 997.8,219.5 998.1,221.0 998.4,222.6 998.7,223.8 999.0,226.3 999.2,220.1 999.5,227.4 999.8,220.5 1000.1,221.5 1000.4,224.3" fill="none" stroke="#1212f2" stroke-width="0.95" stroke-linejoin="round"/>
<line x1="491.8" y1="164.34" x2="491.8" y2="224.56" stroke="#2a2aff" stroke-width="1.0"/>
<line x1="482.80" y1="213.4" x2="1000.30" y2="213.4" stroke="#ee1c23" stroke-width="1.9" stroke-dasharray="1.9 1.6"/>
<rect x="482.30" y="161.00" width="518.50" height="66.90" fill="none" stroke="#858585" stroke-width="0.9"/>
<path d="M547.17 227.90v-4.5M547.17 161.00v4.5" stroke="#858585" stroke-width="0.8"/><path d="M612.05 227.90v-4.5M612.05 161.00v4.5" stroke="#858585" stroke-width="0.8"/><path d="M676.92 227.90v-4.5M676.92 161.00v4.5" stroke="#858585" stroke-width="0.8"/><path d="M741.80 227.90v-4.5M741.80 161.00v4.5" stroke="#858585" stroke-width="0.8"/><path d="M806.67 227.90v-4.5M806.67 161.00v4.5" stroke="#858585" stroke-width="0.8"/><path d="M871.55 227.90v-4.5M871.55 161.00v4.5" stroke="#858585" stroke-width="0.8"/><path d="M936.42 227.90v-4.5M936.42 161.00v4.5" stroke="#858585" stroke-width="0.8"/><path d="M482.30 194.45h4.5M1000.80 194.45h-4.5" stroke="#858585" stroke-width="0.8"/>
<text class="b" x="477.50" y="167.30" text-anchor="end">2</text><text class="b" x="477.50" y="199.75" text-anchor="end">1</text><text class="b" x="477.50" y="233.20" text-anchor="end">0</text>
<text class="b" x="482.60" y="247.30" text-anchor="middle">0</text><text class="b" x="547.47" y="247.30" text-anchor="middle">0.5</text><text class="b" x="612.35" y="247.30" text-anchor="middle">1</text><text class="b" x="677.22" y="247.30" text-anchor="middle">1.5</text><text class="b" x="742.10" y="247.30" text-anchor="middle">2</text><text class="b" x="806.97" y="247.30" text-anchor="middle">2.5</text><text class="b" x="871.85" y="247.30" text-anchor="middle">3</text><text class="b" x="936.72" y="247.30" text-anchor="middle">3.5</text>
<text class="t" x="481.3" y="155.3" textLength="517.5" lengthAdjust="spacingAndGlyphs">Envelope of filtered signal, Bw=Fs/2<tspan dy="-7.8" style="font-size:13.2px">5.585</tspan><tspan dy="7.8">, fc=5125Hz, Kurt=6.8, </tspan><tspan style="font-style:italic">α</tspan>=.1%</text>
<text class="t" x="713.00" y="259.70" textLength="59.2" lengthAdjust="spacingAndGlyphs">Time (s)</text>
<text class="b" x="1001.80" y="199.80" textLength="17.5" lengthAdjust="spacingAndGlyphs">(c)</text>
<text class="t" text-anchor="middle" transform="translate(464,172.2) rotate(-90)" textLength="121.7" lengthAdjust="spacingAndGlyphs" style="font-size:16.3px">Amplitude (m·s<tspan dy="-6.5" style="font-size:11px">-2</tspan><tspan dy="6.5">)</tspan></text>
<polyline points="482.3,337.6 483.1,294.7 484.0,339.7 484.8,314.4 485.6,293.0 486.4,319.4 487.3,326.9 488.1,335.0 488.9,317.2 489.8,339.6 490.6,328.2 491.4,332.7 492.3,318.6 493.1,324.1 493.9,315.8 494.7,344.7 495.6,338.6 496.4,315.7 497.2,340.1 498.1,336.2 498.9,326.8 499.7,331.9 500.6,314.4 501.4,314.4 502.2,341.3 503.0,314.4 503.9,341.5 504.7,338.7 505.5,330.6 506.4,338.7 507.2,314.4 508.0,334.9 508.8,317.5 509.7,335.3 510.5,306.5 511.3,314.4 512.2,338.1 513.0,307.1 513.8,324.1 514.7,314.4 515.5,328.2 516.3,314.4 517.1,348.7 518.0,326.6 518.8,343.9 519.6,325.2 520.5,332.7 521.3,319.1 522.1,340.9 523.0,335.3 523.8,314.4 524.6,331.2 525.4,321.5 526.3,344.4 527.1,314.4 527.9,318.2 528.8,334.1 529.6,308.7 530.4,334.6 531.2,342.1 532.1,339.3 532.9,307.1 533.7,335.1 534.6,320.1 535.4,318.8 536.2,331.6 537.1,314.6 537.9,330.7 538.7,340.3 539.5,335.2 540.4,328.4 541.2,349.0 542.0,348.8 542.9,334.7 543.7,327.2 544.5,338.2 545.3,330.5 546.2,331.3 547.0,314.4 547.8,334.9 548.7,323.5 549.5,349.3 550.3,303.1 551.2,321.3 552.0,323.0 552.8,338.7 553.6,326.3 554.5,323.7 555.3,328.7 556.1,324.6 557.0,347.4 557.8,314.4 558.6,318.0 559.5,342.8 560.3,314.4 561.1,332.4 561.9,301.4 562.8,337.3 563.6,336.4 564.4,342.5 565.3,341.2 566.1,345.7 566.9,326.6 567.7,338.7 568.6,319.3 569.4,340.8 570.2,293.6 571.1,332.1 571.9,337.9 572.7,338.4 573.6,340.0 574.4,287.4 575.2,336.7 576.0,319.8 576.9,305.9 577.7,328.8 578.5,321.5 579.4,327.6 580.2,336.1 581.0,332.0 581.9,321.8 582.7,314.4 583.5,337.1 584.3,314.4 585.2,338.9 586.0,314.4 586.8,331.8 587.7,333.8 588.5,334.9 589.3,314.4 590.1,320.3 591.0,324.3 591.8,337.3 592.6,344.6 593.5,342.7 594.3,344.3 595.1,305.4 596.0,330.6 596.8,314.4 597.6,328.8 598.4,336.2 599.3,336.2 600.1,327.2 600.9,324.6 601.8,321.9 602.6,325.6 603.4,314.4 604.3,345.4 605.1,317.2 605.9,334.0 606.7,314.7 607.6,323.3 608.4,335.6 609.2,316.3 610.1,330.8 610.9,334.1 611.7,326.0 612.5,316.9 613.4,321.0 614.2,333.8 615.0,341.2 615.9,329.7 616.7,317.7 617.5,303.1 618.4,343.7 619.2,342.6 620.0,335.1 620.8,338.6 621.7,347.2 622.5,343.9 623.3,333.0 624.2,293.6 625.0,324.1 625.8,317.7 626.7,295.3 627.5,343.3 628.3,330.6 629.1,309.9 630.0,344.3 630.8,338.2 631.6,311.0 632.5,333.8 633.3,324.9 634.1,329.6 634.9,321.4 635.8,329.7 636.6,342.7 637.4,333.9 638.3,327.2 639.1,347.7 639.9,326.6 640.8,328.5 641.6,337.9 642.4,335.4 643.2,335.2 644.1,321.7 644.9,314.4 645.7,336.9 646.6,329.0 647.4,328.5 648.2,346.0 649.0,337.7 649.9,318.5 650.7,339.4 651.5,338.7 652.4,336.9 653.2,310.4 654.0,332.3 654.9,322.0 655.7,330.5 656.5,337.3 657.3,345.9 658.2,320.9 659.0,314.4 659.8,324.3 660.7,329.8 661.5,295.8 662.3,319.4 663.2,332.9 664.0,333.9 664.8,343.9 665.6,314.4 666.5,340.6 667.3,336.3 668.1,305.9 669.0,319.7 669.8,340.3 670.6,314.4 671.4,338.6 672.3,314.4 673.1,328.0 673.9,338.3 674.8,336.1 675.6,330.1 676.4,308.7 677.3,316.4 678.1,330.9 678.9,348.0 679.7,339.3 680.6,334.7 681.4,314.4 682.2,305.4 683.1,330.3 683.9,314.4 684.7,323.7 685.6,339.2 686.4,339.3 687.2,311.0 688.0,330.5 688.9,331.3 689.7,322.1 690.5,314.4 691.4,338.1 692.2,322.0 693.0,332.3 693.8,319.0 694.7,329.5 695.5,341.0 696.3,338.6 697.2,344.8 698.0,350.4 698.8,308.7 699.7,347.0 700.5,322.8 701.3,323.7 702.1,339.5 703.0,333.7 703.8,331.0 704.6,323.5 705.5,319.8 706.3,341.3 707.1,336.1 708.0,342.3 708.8,329.0 709.6,314.4 710.4,291.3 711.3,316.6 712.1,329.3 712.9,343.1 713.8,333.6 714.6,323.2 715.4,314.4 716.2,299.7 717.1,330.4 717.9,320.7 718.7,339.8 719.6,310.4 720.4,323.9 721.2,342.6 722.1,328.9 722.9,325.8 723.7,337.2 724.5,329.3 725.4,300.3 726.2,349.3 727.0,340.9 727.9,337.6 728.7,331.2 729.5,326.6 730.4,314.4 731.2,348.6 732.0,340.0 732.8,338.0 733.7,303.1 734.5,327.7 735.3,340.5 736.2,343.9 737.0,325.7 737.8,331.6 738.6,321.8 739.5,316.9 740.3,329.9 741.1,334.6 742.0,336.9 742.8,329.3 743.6,340.1 744.5,327.2 745.3,314.4 746.1,338.6 746.9,319.0 747.8,342.7 748.6,314.4 749.4,318.7 750.3,334.2 751.1,339.2 751.9,314.4 752.7,314.4 753.6,340.0 754.4,338.1 755.2,332.0 756.1,293.6 756.9,327.6 757.7,341.5 758.6,346.4 759.4,341.0 760.2,319.6 761.0,314.4 761.9,331.2 762.7,342.9 763.5,338.3 764.4,318.3 765.2,334.3 766.0,337.4 766.9,332.7 767.7,324.8 768.5,335.6 769.3,314.4 770.2,340.2 771.0,298.6 771.8,323.6 772.7,314.4 773.5,332.7 774.3,336.8 775.1,348.6 776.0,341.8 776.8,333.6 777.6,306.5 778.5,327.6 779.3,330.4 780.1,333.8 781.0,314.4 781.8,330.9 782.6,313.2 783.4,315.3 784.3,336.1 785.1,343.7 785.9,330.3 786.8,330.7 787.6,338.5 788.4,332.1 789.3,334.2 790.1,319.1 790.9,326.0 791.7,340.3 792.6,328.2 793.4,333.1 794.2,324.5 795.1,348.5 795.9,306.5 796.7,344.1 797.5,321.2 798.4,314.4 799.2,320.7 800.0,313.8 800.9,334.3 801.7,335.8 802.5,338.3 803.4,345.7 804.2,323.2 805.0,328.0 805.8,334.7 806.7,331.0 807.5,347.8 808.3,339.2 809.2,337.7 810.0,338.6 810.8,330.9 811.7,333.6 812.5,327.1 813.3,340.4 814.1,336.4 815.0,344.5 815.8,334.4 816.6,308.2 817.5,314.4 818.3,326.4 819.1,333.3 819.9,324.5 820.8,317.6 821.6,336.8 822.4,330.5 823.3,306.5 824.1,331.8 824.9,330.8 825.8,332.4 826.6,346.6 827.4,330.9 828.2,314.4 829.1,340.5 829.9,314.4 830.7,337.6 831.6,314.4 832.4,316.7 833.2,337.4 834.1,325.5 834.9,319.8 835.7,340.9 836.5,325.2 837.4,332.1 838.2,334.6 839.0,340.3 839.9,334.4 840.7,341.0 841.5,338.2 842.3,320.5 843.2,344.2 844.0,338.6 844.8,314.9 845.7,314.4 846.5,350.7 847.3,339.1 848.2,335.3 849.0,331.5 849.8,340.7 850.6,339.9 851.5,348.6 852.3,324.4 853.1,335.9 854.0,333.6 854.8,297.5 855.6,339.1 856.4,320.9 857.3,337.6 858.1,332.9 858.9,327.5 859.8,331.6 860.6,329.1 861.4,324.8 862.3,319.1 863.1,335.4 863.9,315.5 864.7,341.5 865.6,332.1 866.4,314.4 867.2,315.8 868.1,330.1 868.9,332.5 869.7,309.9 870.6,346.7 871.4,332.8 872.2,326.2 873.0,333.5 873.9,322.6 874.7,338.9 875.5,318.7 876.4,329.5 877.2,322.2 878.0,308.7 878.8,338.4 879.7,325.9 880.5,346.9 881.3,343.8 882.2,321.1 883.0,351.1 883.8,325.3 884.7,323.9 885.5,345.0 886.3,329.9 887.1,341.2 888.0,333.9 888.8,334.5 889.6,329.2 890.5,316.0 891.3,318.2 892.1,341.3 893.0,319.3 893.8,338.3 894.6,325.7 895.4,348.3 896.3,328.2 897.1,345.2 897.9,341.2 898.8,340.8 899.6,284.3 900.4,342.6 901.2,327.2 902.1,319.8 902.9,333.6 903.7,338.6 904.6,344.3 905.4,330.5 906.2,341.6 907.1,319.3 907.9,326.9 908.7,326.0 909.5,326.8 910.4,349.6 911.2,339.6 912.0,331.8 912.9,330.9 913.7,313.8 914.5,347.0 915.4,318.2 916.2,341.9 917.0,344.0 917.8,330.3 918.7,314.4 919.5,332.1 920.3,314.4 921.2,344.4 922.0,331.2 922.8,330.2 923.6,340.0 924.5,344.4 925.3,314.4 926.1,316.4 927.0,325.1 927.8,339.8 928.6,343.6 929.5,337.1 930.3,313.2 931.1,329.1 931.9,326.1 932.8,337.5 933.6,314.4 934.4,313.2 935.3,342.6 936.1,329.5 936.9,351.1 937.8,324.6 938.6,323.0 939.4,314.4 940.2,324.1 941.1,331.3 941.9,343.3 942.7,348.4 943.6,314.4 944.4,342.8 945.2,335.8 946.0,341.6 946.9,334.0 947.7,316.0 948.5,314.4 949.4,317.1 950.2,328.9 951.0,343.6 951.9,337.4 952.7,321.6 953.5,342.7 954.3,344.7 955.2,334.7 956.0,314.4 956.8,341.7 957.7,335.4 958.5,325.6 959.3,323.1 960.1,328.7 961.0,322.2 961.8,324.8 962.6,323.2 963.5,326.4 964.3,315.5 965.1,342.6 966.0,330.5 966.8,291.9 967.6,334.2 968.4,323.1 969.3,326.3 970.1,328.1 970.9,314.4 971.8,318.3 972.6,329.1 973.4,314.4 974.3,341.2 975.1,331.6 975.9,328.2 976.7,319.9 977.6,327.0 978.4,330.5 979.2,349.7 980.1,314.4 980.9,331.5 981.7,314.4 982.5,341.8 983.4,345.4 984.2,328.8 985.0,297.5 985.9,341.1 986.7,327.5 987.5,319.9 988.4,337.0 989.2,339.4 990.0,342.0 990.8,349.4 991.7,324.6 992.5,337.2 993.3,333.3 994.2,338.5 995.0,305.9 995.8,317.6 996.7,327.8 997.5,328.5 998.3,333.7 999.1,318.5 1000.0,314.9 1000.8,314.4" fill="none" stroke="#1c1cf5" stroke-width="0.85" stroke-linejoin="round" opacity="0.88"/>
<rect x="482.30" y="284.00" width="518.50" height="69.70" fill="none" stroke="#858585" stroke-width="0.9"/>
<path d="M586.00 353.70v-4.5M586.00 284.00v4.5" stroke="#858585" stroke-width="0.8"/><path d="M689.70 353.70v-4.5M689.70 284.00v4.5" stroke="#858585" stroke-width="0.8"/><path d="M793.40 353.70v-4.5M793.40 284.00v4.5" stroke="#858585" stroke-width="0.8"/><path d="M897.10 353.70v-4.5M897.10 284.00v4.5" stroke="#858585" stroke-width="0.8"/><path d="M482.30 297.50h4.5M1000.80 297.50h-4.5" stroke="#858585" stroke-width="0.8"/><path d="M482.30 325.60h4.5M1000.80 325.60h-4.5" stroke="#858585" stroke-width="0.8"/>
<text class="b" x="477.50" y="302.80" text-anchor="end">1</text><text class="b" x="477.50" y="330.90" text-anchor="end">0.5</text><text class="b" x="477.50" y="359.00" text-anchor="end">0</text>
<text class="b" x="482.60" y="373.20" text-anchor="middle">0</text><text class="b" x="586.30" y="373.20" text-anchor="middle">50</text><text class="b" x="690.00" y="373.20" text-anchor="middle">100</text><text class="b" x="793.70" y="373.20" text-anchor="middle">150</text><text class="b" x="897.40" y="373.20" text-anchor="middle">200</text><text class="b" x="1001.10" y="373.20" text-anchor="middle">250</text>
<text class="t" x="484" y="280.5">×10<tspan dy="-8.6" style="font-size:12.5px">-3</tspan></text>
<text class="t" x="578.00" y="280.50" textLength="330.0" lengthAdjust="spacingAndGlyphs">Amplitude spectrum of the squared envelope</text>
<text class="t" x="690.50" y="387.30" textLength="114.8" lengthAdjust="spacingAndGlyphs">Frequency (Hz)</text>
<text class="b" x="1004.50" y="330.20" textLength="19.5" lengthAdjust="spacingAndGlyphs">(d)</text>
<path d="M586.50 300.00V323.50" stroke="#f5141a" stroke-width="2.1" fill="none"/><path d="M581.30 320.90L591.70 320.90L586.50 329.50Z" fill="#f5141a"/><text class="red" x="591.20" y="298.30" style="font-size:16px"><tspan style="font-style:italic">f</tspan><tspan dy="2.2" style="font-size:12px">o</tspan></text>
<path d="M689.70 300.60V323.60" stroke="#f5141a" stroke-width="2.1" fill="none"/><path d="M684.50 321.00L694.90 321.00L689.70 329.60Z" fill="#f5141a"/><text class="red" x="690.20" y="299.00" style="font-size:16px">2<tspan style="font-style:italic">f</tspan><tspan dy="2.2" style="font-size:12px">o</tspan></text>
<path d="M793.20 289.80V314.30" stroke="#f5141a" stroke-width="2.1" fill="none"/><path d="M788.00 311.70L798.40 311.70L793.20 320.30Z" fill="#f5141a"/><text class="red" x="797.40" y="298.40" style="font-size:16px">3<tspan style="font-style:italic">f</tspan><tspan dy="2.2" style="font-size:12px">o</tspan></text>
</svg>
</body></html>
